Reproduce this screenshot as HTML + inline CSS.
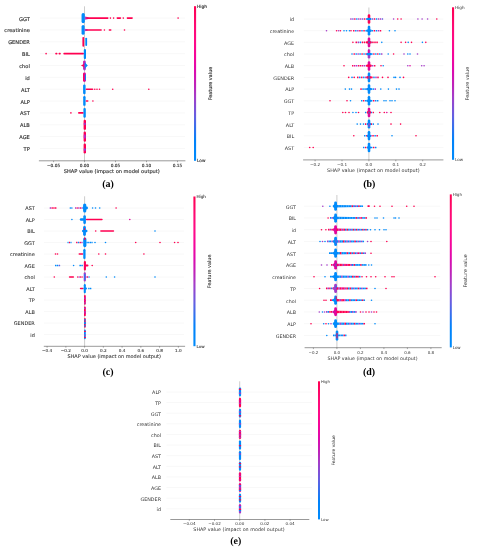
<!DOCTYPE html>
<html><head><meta charset="utf-8"><style>html,body{margin:0;padding:0;background:#fff;overflow:hidden}svg{display:block}text{text-rendering:geometricPrecision}</style></head>
<body><svg width="477" height="550" viewBox="0 0 477 550"><defs><linearGradient id="ga" x1="0" y1="0" x2="0" y2="1"><stop offset="0" stop-color="#ff0051"/><stop offset="0.123" stop-color="#ff0a73"/><stop offset="0.227" stop-color="#ff0a87"/><stop offset="0.324" stop-color="#f5059b"/><stop offset="0.42" stop-color="#dc0aaf"/><stop offset="0.511" stop-color="#be23b9"/><stop offset="0.583" stop-color="#a53cc8"/><stop offset="0.712" stop-color="#645fe1"/><stop offset="0.867" stop-color="#0082fa"/><stop offset="1" stop-color="#008bfb"/></linearGradient><linearGradient id="gb" x1="0" y1="0" x2="0" y2="1"><stop offset="0" stop-color="#ff0051"/><stop offset="0.123" stop-color="#ff0a73"/><stop offset="0.227" stop-color="#ff0a87"/><stop offset="0.324" stop-color="#f5059b"/><stop offset="0.42" stop-color="#dc0aaf"/><stop offset="0.511" stop-color="#be23b9"/><stop offset="0.583" stop-color="#a53cc8"/><stop offset="0.712" stop-color="#645fe1"/><stop offset="0.867" stop-color="#0082fa"/><stop offset="1" stop-color="#008bfb"/></linearGradient><linearGradient id="gc" x1="0" y1="0" x2="0" y2="1"><stop offset="0" stop-color="#ff0051"/><stop offset="0.123" stop-color="#ff0a73"/><stop offset="0.227" stop-color="#ff0a87"/><stop offset="0.324" stop-color="#f5059b"/><stop offset="0.42" stop-color="#dc0aaf"/><stop offset="0.511" stop-color="#be23b9"/><stop offset="0.583" stop-color="#a53cc8"/><stop offset="0.712" stop-color="#645fe1"/><stop offset="0.867" stop-color="#0082fa"/><stop offset="1" stop-color="#008bfb"/></linearGradient><linearGradient id="gd" x1="0" y1="0" x2="0" y2="1"><stop offset="0" stop-color="#ff0051"/><stop offset="0.123" stop-color="#ff0a73"/><stop offset="0.227" stop-color="#ff0a87"/><stop offset="0.324" stop-color="#f5059b"/><stop offset="0.42" stop-color="#dc0aaf"/><stop offset="0.511" stop-color="#be23b9"/><stop offset="0.583" stop-color="#a53cc8"/><stop offset="0.712" stop-color="#645fe1"/><stop offset="0.867" stop-color="#0082fa"/><stop offset="1" stop-color="#008bfb"/></linearGradient><linearGradient id="ge" x1="0" y1="0" x2="0" y2="1"><stop offset="0" stop-color="#ff0051"/><stop offset="0.123" stop-color="#ff0a73"/><stop offset="0.227" stop-color="#ff0a87"/><stop offset="0.324" stop-color="#f5059b"/><stop offset="0.42" stop-color="#dc0aaf"/><stop offset="0.511" stop-color="#be23b9"/><stop offset="0.583" stop-color="#a53cc8"/><stop offset="0.712" stop-color="#645fe1"/><stop offset="0.867" stop-color="#0082fa"/><stop offset="1" stop-color="#008bfb"/></linearGradient></defs><rect width="477" height="550" fill="#fff"/><g><line x1="40" y1="18.1" x2="185" y2="18.1" stroke="#f8f8f8" stroke-width="1"/>
<line x1="40" y1="29.95" x2="185" y2="29.95" stroke="#f8f8f8" stroke-width="1"/>
<line x1="40" y1="41.8" x2="185" y2="41.8" stroke="#f8f8f8" stroke-width="1"/>
<line x1="40" y1="53.65" x2="185" y2="53.65" stroke="#f8f8f8" stroke-width="1"/>
<line x1="40" y1="65.5" x2="185" y2="65.5" stroke="#f8f8f8" stroke-width="1"/>
<line x1="40" y1="77.35" x2="185" y2="77.35" stroke="#f8f8f8" stroke-width="1"/>
<line x1="40" y1="89.2" x2="185" y2="89.2" stroke="#f8f8f8" stroke-width="1"/>
<line x1="40" y1="101.05" x2="185" y2="101.05" stroke="#f8f8f8" stroke-width="1"/>
<line x1="40" y1="112.9" x2="185" y2="112.9" stroke="#f8f8f8" stroke-width="1"/>
<line x1="40" y1="124.75" x2="185" y2="124.75" stroke="#f8f8f8" stroke-width="1"/>
<line x1="40" y1="136.6" x2="185" y2="136.6" stroke="#f8f8f8" stroke-width="1"/>
<line x1="40" y1="148.45" x2="185" y2="148.45" stroke="#f8f8f8" stroke-width="1"/>
<line x1="84.5" y1="6.3" x2="84.5" y2="160.8" stroke="#aaaaaa" stroke-width="0.6"/>
<text transform="translate(29.8,20.56) scale(0.1)" x="0" y="0" font-size="50.9" text-anchor="end" fill="#333333" stroke="#333333" stroke-width="1.5" font-family='"DejaVu Sans", "Liberation Sans", sans-serif' font-weight="normal" >GGT</text>
<text transform="translate(29.8,32.41) scale(0.1)" x="0" y="0" font-size="50.9" text-anchor="end" fill="#333333" stroke="#333333" stroke-width="1.5" font-family='"DejaVu Sans", "Liberation Sans", sans-serif' font-weight="normal" >creatinine</text>
<text transform="translate(29.8,44.26) scale(0.1)" x="0" y="0" font-size="50.9" text-anchor="end" fill="#333333" stroke="#333333" stroke-width="1.5" font-family='"DejaVu Sans", "Liberation Sans", sans-serif' font-weight="normal" >GENDER</text>
<text transform="translate(29.8,56.11) scale(0.1)" x="0" y="0" font-size="50.9" text-anchor="end" fill="#333333" stroke="#333333" stroke-width="1.5" font-family='"DejaVu Sans", "Liberation Sans", sans-serif' font-weight="normal" >BIL</text>
<text transform="translate(29.8,67.96) scale(0.1)" x="0" y="0" font-size="50.9" text-anchor="end" fill="#333333" stroke="#333333" stroke-width="1.5" font-family='"DejaVu Sans", "Liberation Sans", sans-serif' font-weight="normal" >chol</text>
<text transform="translate(29.8,79.81) scale(0.1)" x="0" y="0" font-size="50.9" text-anchor="end" fill="#333333" stroke="#333333" stroke-width="1.5" font-family='"DejaVu Sans", "Liberation Sans", sans-serif' font-weight="normal" >id</text>
<text transform="translate(29.8,91.66) scale(0.1)" x="0" y="0" font-size="50.9" text-anchor="end" fill="#333333" stroke="#333333" stroke-width="1.5" font-family='"DejaVu Sans", "Liberation Sans", sans-serif' font-weight="normal" >ALT</text>
<text transform="translate(29.8,103.51) scale(0.1)" x="0" y="0" font-size="50.9" text-anchor="end" fill="#333333" stroke="#333333" stroke-width="1.5" font-family='"DejaVu Sans", "Liberation Sans", sans-serif' font-weight="normal" >ALP</text>
<text transform="translate(29.8,115.36) scale(0.1)" x="0" y="0" font-size="50.9" text-anchor="end" fill="#333333" stroke="#333333" stroke-width="1.5" font-family='"DejaVu Sans", "Liberation Sans", sans-serif' font-weight="normal" >AST</text>
<text transform="translate(29.8,127.21) scale(0.1)" x="0" y="0" font-size="50.9" text-anchor="end" fill="#333333" stroke="#333333" stroke-width="1.5" font-family='"DejaVu Sans", "Liberation Sans", sans-serif' font-weight="normal" >ALB</text>
<text transform="translate(29.8,139.06) scale(0.1)" x="0" y="0" font-size="50.9" text-anchor="end" fill="#333333" stroke="#333333" stroke-width="1.5" font-family='"DejaVu Sans", "Liberation Sans", sans-serif' font-weight="normal" >AGE</text>
<text transform="translate(29.8,150.91) scale(0.1)" x="0" y="0" font-size="50.9" text-anchor="end" fill="#333333" stroke="#333333" stroke-width="1.5" font-family='"DejaVu Sans", "Liberation Sans", sans-serif' font-weight="normal" >TP</text>
<rect x="81.55" y="13.1" width="3.3" height="10.1" rx="1.65" fill="#008bfb"/>
<polygon points="84.8,16.5 88.5,17.2 88.5,19 84.8,19.7" fill="#a53cc8"/>
<rect x="86" y="17.3" width="22.6" height="1.6" rx="0.8" fill="#ff0051"/>
<circle cx="110.4" cy="18.1" r="0.8" fill="#ff0051"/>
<circle cx="113.6" cy="18.1" r="0.8" fill="#ff0051"/>
<circle cx="123.3" cy="18.1" r="0.8" fill="#ff0051"/>
<circle cx="178.1" cy="18.1" r="0.8" fill="#ff0051"/>
<rect x="116.5" y="17.3" width="4.7" height="1.6" rx="0.8" fill="#ff0051"/>
<rect x="126.6" y="17.3" width="6.3" height="1.6" rx="0.8" fill="#ff0051"/>
<rect x="81.55" y="25.05" width="3.1" height="9.8" rx="1.55" fill="#008bfb"/>
<polygon points="84.6,28.65 87.5,29.15 87.5,30.75 84.6,31.25" fill="#a53cc8"/>
<rect x="86" y="29.15" width="15.9" height="1.6" rx="0.8" fill="#ff0051"/>
<circle cx="104.4" cy="29.95" r="0.8" fill="#ff0051"/>
<circle cx="124.5" cy="29.95" r="0.8" fill="#ff0051"/>
<rect x="108.6" y="29.15" width="2.9" height="1.6" rx="0.8" fill="#ff0051"/>
<rect x="82.4" y="36.9" width="1.8" height="9.8" rx="0.9" fill="#ff0051"/>
<rect x="85.3" y="37.7" width="1.8" height="8.3" rx="0.9" fill="#008bfb"/>
<circle cx="46.1" cy="53.65" r="0.8" fill="#ff0051"/>
<rect x="55.2" y="52.85" width="2.3" height="1.6" rx="0.8" fill="#ff0051"/>
<rect x="58.5" y="52.85" width="2.3" height="1.6" rx="0.8" fill="#ff0051"/>
<rect x="63.3" y="52.85" width="20.7" height="1.6" rx="0.8" fill="#ff0051"/>
<rect x="83.8" y="48.95" width="2.2" height="10.2" rx="1.1" fill="#008bfb"/>
<rect x="83.2" y="60.6" width="2.6" height="9.8" rx="1.3" fill="#a53cc8"/>
<rect x="83.4" y="61" width="1.2" height="8" rx="0.6" fill="#e0089e"/>
<polygon points="80.9,65.5 83.8,64.1 83.8,66.9" fill="#ff0051"/>
<polygon points="85.3,62.9 87.8,65.5 85.3,68.1" fill="#008bfb"/>
<rect x="84.7" y="62.5" width="1" height="6" rx="0.5" fill="#008bfb"/>
<rect x="83.05" y="72.55" width="2.9" height="9.5" rx="1.45" fill="#e0089e"/>
<rect x="84.9" y="74.35" width="1" height="6" rx="0.5" fill="#008bfb"/>
<rect x="83.2" y="73.35" width="1" height="8" rx="0.5" fill="#ff0051"/>
<rect x="83.1" y="84.4" width="2.5" height="9.8" rx="1.25" fill="#008bfb"/>
<rect x="85.6" y="88.4" width="7.8" height="1.6" rx="0.8" fill="#ff0051"/>
<circle cx="94.8" cy="89.2" r="0.8" fill="#ff0051"/>
<circle cx="97" cy="89.2" r="0.8" fill="#ff0051"/>
<circle cx="99.5" cy="89.2" r="0.8" fill="#ff0051"/>
<circle cx="112.7" cy="89.2" r="0.8" fill="#ff0051"/>
<circle cx="148.8" cy="89.2" r="0.8" fill="#ff0051"/>
<rect x="83.2" y="96.05" width="2.4" height="9.8" rx="1.2" fill="#008bfb"/>
<rect x="85.6" y="100.25" width="2.9" height="1.6" rx="0.8" fill="#ff0051"/>
<circle cx="92.9" cy="101.05" r="0.8" fill="#ff0051"/>
<rect x="83.4" y="107.9" width="2.4" height="9.9" rx="1.2" fill="#008bfb"/>
<rect x="78" y="112.1" width="5.6" height="1.6" rx="0.8" fill="#ff0051"/>
<circle cx="70.9" cy="112.9" r="0.8" fill="#ff0051"/>
<rect x="83.6" y="119.75" width="2.4" height="10.1" rx="1.2" fill="#ff0051"/>
<rect x="83.8" y="122.55" width="2" height="2.8" rx="1" fill="#e0089e"/>
<rect x="84" y="123.15" width="1.6" height="1.6" rx="0.8" fill="#6a60e0"/>
<rect x="83.6" y="131.6" width="2.4" height="10.1" rx="1.2" fill="#ff0051"/>
<rect x="83.8" y="134.1" width="2" height="5" rx="1" fill="#e0089e"/>
<rect x="84" y="135.1" width="1.6" height="3" rx="0.8" fill="#a53cc8"/>
<rect x="83.6" y="143.45" width="2.4" height="10.1" rx="1.2" fill="#ff0051"/>
<rect x="83.8" y="147.95" width="2" height="3.5" rx="1" fill="#e0089e"/>
<rect x="84" y="148.45" width="1.6" height="2.2" rx="0.8" fill="#6a60e0"/>
<line x1="38.9" y1="160.8" x2="185.4" y2="160.8" stroke="#333333" stroke-width="0.5"/>
<line x1="53.6" y1="160.8" x2="53.6" y2="162.2" stroke="#333333" stroke-width="0.4"/>
<text transform="translate(53.6,166.77) scale(0.1)" x="0" y="0" font-size="43.07" text-anchor="middle" fill="#333333" stroke="#333333" stroke-width="1.5" font-family='"DejaVu Sans", "Liberation Sans", sans-serif' font-weight="normal" >−0.05</text>
<line x1="84.5" y1="160.8" x2="84.5" y2="162.2" stroke="#333333" stroke-width="0.4"/>
<text transform="translate(84.5,166.77) scale(0.1)" x="0" y="0" font-size="43.07" text-anchor="middle" fill="#333333" stroke="#333333" stroke-width="1.5" font-family='"DejaVu Sans", "Liberation Sans", sans-serif' font-weight="normal" >0.00</text>
<line x1="115.5" y1="160.8" x2="115.5" y2="162.2" stroke="#333333" stroke-width="0.4"/>
<text transform="translate(115.5,166.77) scale(0.1)" x="0" y="0" font-size="43.07" text-anchor="middle" fill="#333333" stroke="#333333" stroke-width="1.5" font-family='"DejaVu Sans", "Liberation Sans", sans-serif' font-weight="normal" >0.05</text>
<line x1="146.5" y1="160.8" x2="146.5" y2="162.2" stroke="#333333" stroke-width="0.4"/>
<text transform="translate(146.5,166.77) scale(0.1)" x="0" y="0" font-size="43.07" text-anchor="middle" fill="#333333" stroke="#333333" stroke-width="1.5" font-family='"DejaVu Sans", "Liberation Sans", sans-serif' font-weight="normal" >0.10</text>
<line x1="177.5" y1="160.8" x2="177.5" y2="162.2" stroke="#333333" stroke-width="0.4"/>
<text transform="translate(177.5,166.77) scale(0.1)" x="0" y="0" font-size="43.07" text-anchor="middle" fill="#333333" stroke="#333333" stroke-width="1.5" font-family='"DejaVu Sans", "Liberation Sans", sans-serif' font-weight="normal" >0.15</text>
<text transform="translate(111.8,172.66) scale(0.1)" x="0" y="0" font-size="50.9" text-anchor="middle" fill="#333333" stroke="#333333" stroke-width="1.5" font-family='"DejaVu Sans", "Liberation Sans", sans-serif' font-weight="normal" >SHAP value (impact on model output)</text>
<rect x="194" y="6.2" width="2.1" height="154.6" fill="url(#ga)"/>
<text transform="translate(197,7.77) scale(0.1)" x="0" y="0" font-size="43.07" text-anchor="start" fill="#333333" stroke="#333333" stroke-width="1.5" font-family='"DejaVu Sans", "Liberation Sans", sans-serif' font-weight="normal" >High</text>
<text transform="translate(197,162.37) scale(0.1)" x="0" y="0" font-size="43.07" text-anchor="start" fill="#333333" stroke="#333333" stroke-width="1.5" font-family='"DejaVu Sans", "Liberation Sans", sans-serif' font-weight="normal" >Low</text>
<text x="0" y="0" font-size="49.1" text-anchor="middle" fill="#333333" stroke="#333333" stroke-width="1.5" font-family='"DejaVu Sans", "Liberation Sans", sans-serif' transform="translate(211.69,83.5) rotate(-90) scale(0.1)">Feature value</text>
<text transform="translate(108,187.2) scale(0.1)" x="0" y="0" font-size="100" text-anchor="middle" fill="#000000" stroke="#000000" stroke-width="0" font-family='"Liberation Serif", serif' font-weight="bold" >(a)</text>
<line x1="303.8" y1="19" x2="443.4" y2="19" stroke="#f8f8f8" stroke-width="1"/>
<line x1="303.8" y1="30.68" x2="443.4" y2="30.68" stroke="#f8f8f8" stroke-width="1"/>
<line x1="303.8" y1="42.36" x2="443.4" y2="42.36" stroke="#f8f8f8" stroke-width="1"/>
<line x1="303.8" y1="54.04" x2="443.4" y2="54.04" stroke="#f8f8f8" stroke-width="1"/>
<line x1="303.8" y1="65.72" x2="443.4" y2="65.72" stroke="#f8f8f8" stroke-width="1"/>
<line x1="303.8" y1="77.4" x2="443.4" y2="77.4" stroke="#f8f8f8" stroke-width="1"/>
<line x1="303.8" y1="89.08" x2="443.4" y2="89.08" stroke="#f8f8f8" stroke-width="1"/>
<line x1="303.8" y1="100.76" x2="443.4" y2="100.76" stroke="#f8f8f8" stroke-width="1"/>
<line x1="303.8" y1="112.44" x2="443.4" y2="112.44" stroke="#f8f8f8" stroke-width="1"/>
<line x1="303.8" y1="124.12" x2="443.4" y2="124.12" stroke="#f8f8f8" stroke-width="1"/>
<line x1="303.8" y1="135.8" x2="443.4" y2="135.8" stroke="#f8f8f8" stroke-width="1"/>
<line x1="303.8" y1="147.48" x2="443.4" y2="147.48" stroke="#f8f8f8" stroke-width="1"/>
<line x1="368.9" y1="7.5" x2="368.9" y2="159.9" stroke="#aaaaaa" stroke-width="0.6"/>
<text transform="translate(294.2,21.39) scale(0.1)" x="0" y="0" font-size="49" text-anchor="end" fill="#333333" stroke="#333333" stroke-width="0" font-family='"DejaVu Sans", "Liberation Sans", sans-serif' font-weight="normal" >id</text>
<text transform="translate(294.2,33.07) scale(0.1)" x="0" y="0" font-size="49" text-anchor="end" fill="#333333" stroke="#333333" stroke-width="0" font-family='"DejaVu Sans", "Liberation Sans", sans-serif' font-weight="normal" >creatinine</text>
<text transform="translate(294.2,44.75) scale(0.1)" x="0" y="0" font-size="49" text-anchor="end" fill="#333333" stroke="#333333" stroke-width="0" font-family='"DejaVu Sans", "Liberation Sans", sans-serif' font-weight="normal" >AGE</text>
<text transform="translate(294.2,56.43) scale(0.1)" x="0" y="0" font-size="49" text-anchor="end" fill="#333333" stroke="#333333" stroke-width="0" font-family='"DejaVu Sans", "Liberation Sans", sans-serif' font-weight="normal" >chol</text>
<text transform="translate(294.2,68.11) scale(0.1)" x="0" y="0" font-size="49" text-anchor="end" fill="#333333" stroke="#333333" stroke-width="0" font-family='"DejaVu Sans", "Liberation Sans", sans-serif' font-weight="normal" >ALB</text>
<text transform="translate(294.2,79.79) scale(0.1)" x="0" y="0" font-size="49" text-anchor="end" fill="#333333" stroke="#333333" stroke-width="0" font-family='"DejaVu Sans", "Liberation Sans", sans-serif' font-weight="normal" >GENDER</text>
<text transform="translate(294.2,91.47) scale(0.1)" x="0" y="0" font-size="49" text-anchor="end" fill="#333333" stroke="#333333" stroke-width="0" font-family='"DejaVu Sans", "Liberation Sans", sans-serif' font-weight="normal" >ALP</text>
<text transform="translate(294.2,103.15) scale(0.1)" x="0" y="0" font-size="49" text-anchor="end" fill="#333333" stroke="#333333" stroke-width="0" font-family='"DejaVu Sans", "Liberation Sans", sans-serif' font-weight="normal" >GGT</text>
<text transform="translate(294.2,114.83) scale(0.1)" x="0" y="0" font-size="49" text-anchor="end" fill="#333333" stroke="#333333" stroke-width="0" font-family='"DejaVu Sans", "Liberation Sans", sans-serif' font-weight="normal" >TP</text>
<text transform="translate(294.2,126.51) scale(0.1)" x="0" y="0" font-size="49" text-anchor="end" fill="#333333" stroke="#333333" stroke-width="0" font-family='"DejaVu Sans", "Liberation Sans", sans-serif' font-weight="normal" >ALT</text>
<text transform="translate(294.2,138.19) scale(0.1)" x="0" y="0" font-size="49" text-anchor="end" fill="#333333" stroke="#333333" stroke-width="0" font-family='"DejaVu Sans", "Liberation Sans", sans-serif' font-weight="normal" >BIL</text>
<text transform="translate(294.2,149.87) scale(0.1)" x="0" y="0" font-size="49" text-anchor="end" fill="#333333" stroke="#333333" stroke-width="0" font-family='"DejaVu Sans", "Liberation Sans", sans-serif' font-weight="normal" >AST</text>
<rect x="350.2" y="18.2" width="1.42" height="1.6" rx="0.3" fill="#a53cc8"/>
<rect x="352.17" y="18.2" width="1.42" height="1.6" rx="0.3" fill="#6a60e0"/>
<rect x="354.14" y="18.2" width="1.42" height="1.6" rx="0.3" fill="#ff0051"/>
<rect x="356.11" y="18.2" width="1.42" height="1.6" rx="0.3" fill="#008bfb"/>
<rect x="358.08" y="18.2" width="1.42" height="1.6" rx="0.3" fill="#a53cc8"/>
<rect x="360.05" y="18.2" width="1.42" height="1.6" rx="0.3" fill="#a53cc8"/>
<rect x="362.02" y="18.2" width="1.42" height="1.6" rx="0.3" fill="#6a60e0"/>
<rect x="363.99" y="18.2" width="1.42" height="1.6" rx="0.3" fill="#ff0051"/>
<rect x="365.96" y="18.2" width="1.42" height="1.6" rx="0.3" fill="#008bfb"/>
<rect x="367.94" y="18.2" width="1.42" height="1.6" rx="0.3" fill="#a53cc8"/>
<rect x="369.91" y="18.2" width="1.42" height="1.6" rx="0.3" fill="#a53cc8"/>
<rect x="371.88" y="18.2" width="1.42" height="1.6" rx="0.3" fill="#6a60e0"/>
<rect x="373.85" y="18.2" width="1.42" height="1.6" rx="0.3" fill="#ff0051"/>
<rect x="375.82" y="18.2" width="1.42" height="1.6" rx="0.3" fill="#008bfb"/>
<rect x="377.79" y="18.2" width="1.42" height="1.6" rx="0.3" fill="#a53cc8"/>
<rect x="379.76" y="18.2" width="1.42" height="1.6" rx="0.3" fill="#a53cc8"/>
<rect x="381.73" y="18.2" width="1.42" height="1.6" rx="0.3" fill="#6a60e0"/>
<rect x="367.7" y="14.2" width="2.6" height="9.6" rx="1.3" fill="#ff0051"/>
<rect x="366.62" y="17.9" width="4.76" height="2.2" rx="1" fill="#008bfb"/>
<rect x="368.3" y="17.5" width="1.4" height="3" rx="0.7" fill="#008bfb"/>
<circle cx="393.6" cy="19" r="0.8" fill="#a53cc8"/>
<circle cx="397.7" cy="19" r="0.8" fill="#ff0051"/>
<circle cx="401.1" cy="19" r="0.8" fill="#ff0051"/>
<circle cx="417.9" cy="19" r="0.8" fill="#a53cc8"/>
<circle cx="422.1" cy="19" r="0.8" fill="#a53cc8"/>
<circle cx="427.6" cy="19" r="0.8" fill="#a53cc8"/>
<circle cx="436.8" cy="19" r="0.8" fill="#ff0051"/>
<circle cx="326.5" cy="30.68" r="0.8" fill="#a53cc8"/>
<circle cx="336.6" cy="30.68" r="0.8" fill="#ff0051"/>
<circle cx="338.6" cy="30.68" r="0.8" fill="#a53cc8"/>
<circle cx="340.4" cy="30.68" r="0.8" fill="#ff0051"/>
<circle cx="344" cy="30.68" r="0.8" fill="#008bfb"/>
<circle cx="346.5" cy="30.68" r="0.8" fill="#008bfb"/>
<circle cx="349.5" cy="30.68" r="0.8" fill="#008bfb"/>
<circle cx="351" cy="30.68" r="0.8" fill="#ff0051"/>
<circle cx="389.4" cy="30.68" r="0.8" fill="#008bfb"/>
<circle cx="395" cy="30.68" r="0.8" fill="#008bfb"/>
<rect x="353" y="29.88" width="1.51" height="1.6" rx="0.3" fill="#ff0051"/>
<rect x="355.06" y="29.88" width="1.51" height="1.6" rx="0.3" fill="#008bfb"/>
<rect x="357.11" y="29.88" width="1.51" height="1.6" rx="0.3" fill="#a53cc8"/>
<rect x="359.17" y="29.88" width="1.51" height="1.6" rx="0.3" fill="#ff0051"/>
<rect x="361.23" y="29.88" width="1.51" height="1.6" rx="0.3" fill="#008bfb"/>
<rect x="363.29" y="29.88" width="1.51" height="1.6" rx="0.3" fill="#ff0051"/>
<rect x="365.34" y="29.88" width="1.51" height="1.6" rx="0.3" fill="#008bfb"/>
<rect x="367.4" y="29.88" width="1.51" height="1.6" rx="0.3" fill="#a53cc8"/>
<rect x="369.46" y="29.88" width="1.51" height="1.6" rx="0.3" fill="#ff0051"/>
<rect x="371.51" y="29.88" width="1.51" height="1.6" rx="0.3" fill="#008bfb"/>
<rect x="373.57" y="29.88" width="1.51" height="1.6" rx="0.3" fill="#ff0051"/>
<rect x="375.63" y="29.88" width="1.51" height="1.6" rx="0.3" fill="#008bfb"/>
<rect x="377.69" y="29.88" width="1.51" height="1.6" rx="0.3" fill="#a53cc8"/>
<rect x="379.74" y="29.88" width="1.51" height="1.6" rx="0.3" fill="#ff0051"/>
<rect x="367.7" y="25.78" width="2.6" height="9.7" rx="1.3" fill="#008bfb"/>
<rect x="366.28" y="29.58" width="5.44" height="2.2" rx="1" fill="#008bfb"/>
<circle cx="352.9" cy="42.36" r="0.8" fill="#ff0051"/>
<circle cx="381.8" cy="42.36" r="0.8" fill="#008bfb"/>
<circle cx="401.1" cy="42.36" r="0.8" fill="#ff0051"/>
<circle cx="405.6" cy="42.36" r="0.8" fill="#ff0051"/>
<circle cx="408.2" cy="42.36" r="0.8" fill="#008bfb"/>
<circle cx="411.5" cy="42.36" r="0.8" fill="#ff0051"/>
<circle cx="422.4" cy="42.36" r="0.8" fill="#008bfb"/>
<circle cx="425.8" cy="42.36" r="0.8" fill="#ff0051"/>
<rect x="355.5" y="41.56" width="1.53" height="1.6" rx="0.3" fill="#ff0051"/>
<rect x="357.58" y="41.56" width="1.53" height="1.6" rx="0.3" fill="#a53cc8"/>
<rect x="359.66" y="41.56" width="1.53" height="1.6" rx="0.3" fill="#008bfb"/>
<rect x="361.75" y="41.56" width="1.53" height="1.6" rx="0.3" fill="#ff0051"/>
<rect x="363.83" y="41.56" width="1.53" height="1.6" rx="0.3" fill="#ff0051"/>
<rect x="365.91" y="41.56" width="1.53" height="1.6" rx="0.3" fill="#ff0051"/>
<rect x="367.99" y="41.56" width="1.53" height="1.6" rx="0.3" fill="#a53cc8"/>
<rect x="370.07" y="41.56" width="1.53" height="1.6" rx="0.3" fill="#008bfb"/>
<rect x="372.15" y="41.56" width="1.53" height="1.6" rx="0.3" fill="#ff0051"/>
<rect x="374.24" y="41.56" width="1.53" height="1.6" rx="0.3" fill="#ff0051"/>
<rect x="376.32" y="41.56" width="1.53" height="1.6" rx="0.3" fill="#ff0051"/>
<rect x="367.7" y="37.56" width="2.6" height="9.7" rx="1.3" fill="#e0089e"/>
<rect x="366.28" y="41.26" width="5.44" height="2.2" rx="1" fill="#ff0051"/>
<rect x="368.4" y="41.36" width="1.2" height="2" rx="0.6" fill="#008bfb"/>
<circle cx="352" cy="54.04" r="0.8" fill="#008bfb"/>
<circle cx="388.2" cy="54.04" r="0.8" fill="#008bfb"/>
<circle cx="393.6" cy="54.04" r="0.8" fill="#ff0051"/>
<circle cx="404" cy="54.04" r="0.8" fill="#a53cc8"/>
<circle cx="407.8" cy="54.04" r="0.8" fill="#008bfb"/>
<circle cx="410" cy="54.04" r="0.8" fill="#008bfb"/>
<circle cx="417.5" cy="54.04" r="0.8" fill="#a53cc8"/>
<rect x="353.5" y="53.24" width="1.42" height="1.6" rx="0.3" fill="#ff0051"/>
<rect x="355.47" y="53.24" width="1.42" height="1.6" rx="0.3" fill="#008bfb"/>
<rect x="357.43" y="53.24" width="1.42" height="1.6" rx="0.3" fill="#a53cc8"/>
<rect x="359.4" y="53.24" width="1.42" height="1.6" rx="0.3" fill="#008bfb"/>
<rect x="361.37" y="53.24" width="1.42" height="1.6" rx="0.3" fill="#ff0051"/>
<rect x="363.33" y="53.24" width="1.42" height="1.6" rx="0.3" fill="#008bfb"/>
<rect x="365.3" y="53.24" width="1.42" height="1.6" rx="0.3" fill="#ff0051"/>
<rect x="367.27" y="53.24" width="1.42" height="1.6" rx="0.3" fill="#008bfb"/>
<rect x="369.23" y="53.24" width="1.42" height="1.6" rx="0.3" fill="#a53cc8"/>
<rect x="371.2" y="53.24" width="1.42" height="1.6" rx="0.3" fill="#008bfb"/>
<rect x="373.17" y="53.24" width="1.42" height="1.6" rx="0.3" fill="#ff0051"/>
<rect x="375.13" y="53.24" width="1.42" height="1.6" rx="0.3" fill="#008bfb"/>
<rect x="377.1" y="53.24" width="1.42" height="1.6" rx="0.3" fill="#ff0051"/>
<rect x="379.07" y="53.24" width="1.42" height="1.6" rx="0.3" fill="#008bfb"/>
<rect x="381.03" y="53.24" width="1.42" height="1.6" rx="0.3" fill="#a53cc8"/>
<rect x="367.7" y="49.24" width="2.6" height="9.2" rx="1.3" fill="#a53cc8"/>
<rect x="366.28" y="52.94" width="5.44" height="2.2" rx="1" fill="#008bfb"/>
<rect x="368" y="49.54" width="1.2" height="3.5" rx="0.6" fill="#e0089e"/>
<circle cx="344" cy="65.72" r="0.8" fill="#ff0051"/>
<circle cx="381" cy="65.72" r="0.8" fill="#ff0051"/>
<circle cx="383.2" cy="65.72" r="0.8" fill="#008bfb"/>
<circle cx="407.8" cy="65.72" r="0.8" fill="#a53cc8"/>
<circle cx="410" cy="65.72" r="0.8" fill="#e0089e"/>
<circle cx="421.7" cy="65.72" r="0.8" fill="#a53cc8"/>
<circle cx="424.1" cy="65.72" r="0.8" fill="#a53cc8"/>
<rect x="352" y="64.92" width="1.45" height="1.6" rx="0.3" fill="#ff0051"/>
<rect x="354" y="64.92" width="1.45" height="1.6" rx="0.3" fill="#e0089e"/>
<rect x="356" y="64.92" width="1.45" height="1.6" rx="0.3" fill="#a53cc8"/>
<rect x="358" y="64.92" width="1.45" height="1.6" rx="0.3" fill="#ff0051"/>
<rect x="360" y="64.92" width="1.45" height="1.6" rx="0.3" fill="#ff0051"/>
<rect x="362" y="64.92" width="1.45" height="1.6" rx="0.3" fill="#e0089e"/>
<rect x="364" y="64.92" width="1.45" height="1.6" rx="0.3" fill="#a53cc8"/>
<rect x="366" y="64.92" width="1.45" height="1.6" rx="0.3" fill="#ff0051"/>
<rect x="368" y="64.92" width="1.45" height="1.6" rx="0.3" fill="#ff0051"/>
<rect x="370" y="64.92" width="1.45" height="1.6" rx="0.3" fill="#e0089e"/>
<rect x="372" y="64.92" width="1.45" height="1.6" rx="0.3" fill="#a53cc8"/>
<rect x="374" y="64.92" width="1.45" height="1.6" rx="0.3" fill="#ff0051"/>
<rect x="367.7" y="61.22" width="2.6" height="9.5" rx="1.3" fill="#e0089e"/>
<rect x="366.28" y="64.62" width="5.44" height="2.2" rx="1" fill="#ff0051"/>
<circle cx="348.7" cy="77.4" r="0.8" fill="#ff0051"/>
<circle cx="352" cy="77.4" r="0.8" fill="#008bfb"/>
<circle cx="354.2" cy="77.4" r="0.8" fill="#ff0051"/>
<circle cx="382.5" cy="77.4" r="0.8" fill="#ff0051"/>
<circle cx="388" cy="77.4" r="0.8" fill="#ff0051"/>
<circle cx="394" cy="77.4" r="0.8" fill="#008bfb"/>
<circle cx="395.5" cy="77.4" r="0.8" fill="#008bfb"/>
<circle cx="400" cy="77.4" r="0.8" fill="#008bfb"/>
<circle cx="403.5" cy="77.4" r="0.8" fill="#ff0051"/>
<rect x="357" y="76.6" width="1.48" height="1.6" rx="0.3" fill="#ff0051"/>
<rect x="359.03" y="76.6" width="1.48" height="1.6" rx="0.3" fill="#008bfb"/>
<rect x="361.05" y="76.6" width="1.48" height="1.6" rx="0.3" fill="#ff0051"/>
<rect x="363.08" y="76.6" width="1.48" height="1.6" rx="0.3" fill="#008bfb"/>
<rect x="365.11" y="76.6" width="1.48" height="1.6" rx="0.3" fill="#a53cc8"/>
<rect x="367.14" y="76.6" width="1.48" height="1.6" rx="0.3" fill="#ff0051"/>
<rect x="369.16" y="76.6" width="1.48" height="1.6" rx="0.3" fill="#008bfb"/>
<rect x="371.19" y="76.6" width="1.48" height="1.6" rx="0.3" fill="#ff0051"/>
<rect x="373.22" y="76.6" width="1.48" height="1.6" rx="0.3" fill="#008bfb"/>
<rect x="375.25" y="76.6" width="1.48" height="1.6" rx="0.3" fill="#a53cc8"/>
<rect x="377.27" y="76.6" width="1.48" height="1.6" rx="0.3" fill="#ff0051"/>
<rect x="367.7" y="72.6" width="2.6" height="9.6" rx="1.3" fill="#008bfb"/>
<rect x="366.28" y="76.3" width="5.44" height="2.2" rx="1" fill="#ff0051"/>
<rect x="368.4" y="76.2" width="1.2" height="2.4" rx="0.6" fill="#008bfb"/>
<circle cx="345.3" cy="89.08" r="0.8" fill="#008bfb"/>
<circle cx="349.5" cy="89.08" r="0.8" fill="#008bfb"/>
<circle cx="351.5" cy="89.08" r="0.8" fill="#008bfb"/>
<circle cx="380.8" cy="89.08" r="0.8" fill="#008bfb"/>
<circle cx="388.4" cy="89.08" r="0.8" fill="#008bfb"/>
<circle cx="396.5" cy="89.08" r="0.8" fill="#008bfb"/>
<circle cx="399" cy="89.08" r="0.8" fill="#008bfb"/>
<rect x="360.3" y="88.28" width="1.47" height="1.6" rx="0.3" fill="#ff0051"/>
<rect x="362.32" y="88.28" width="1.47" height="1.6" rx="0.3" fill="#008bfb"/>
<rect x="364.35" y="88.28" width="1.47" height="1.6" rx="0.3" fill="#008bfb"/>
<rect x="366.38" y="88.28" width="1.47" height="1.6" rx="0.3" fill="#a53cc8"/>
<rect x="368.4" y="88.28" width="1.47" height="1.6" rx="0.3" fill="#ff0051"/>
<rect x="370.43" y="88.28" width="1.47" height="1.6" rx="0.3" fill="#008bfb"/>
<rect x="372.45" y="88.28" width="1.47" height="1.6" rx="0.3" fill="#008bfb"/>
<rect x="374.48" y="88.28" width="1.47" height="1.6" rx="0.3" fill="#a53cc8"/>
<rect x="367.7" y="84.28" width="2.6" height="9.6" rx="1.3" fill="#008bfb"/>
<rect x="366.28" y="87.98" width="5.44" height="2.2" rx="1" fill="#008bfb"/>
<circle cx="330" cy="100.76" r="0.8" fill="#ff0051"/>
<circle cx="347" cy="100.76" r="0.8" fill="#ff0051"/>
<circle cx="350.5" cy="100.76" r="0.8" fill="#008bfb"/>
<circle cx="384" cy="100.76" r="0.8" fill="#008bfb"/>
<circle cx="386" cy="100.76" r="0.8" fill="#008bfb"/>
<circle cx="390" cy="100.76" r="0.8" fill="#008bfb"/>
<circle cx="392" cy="100.76" r="0.8" fill="#008bfb"/>
<circle cx="395" cy="100.76" r="0.8" fill="#008bfb"/>
<rect x="361" y="99.96" width="1.45" height="1.6" rx="0.3" fill="#008bfb"/>
<rect x="363" y="99.96" width="1.45" height="1.6" rx="0.3" fill="#ff0051"/>
<rect x="365" y="99.96" width="1.45" height="1.6" rx="0.3" fill="#008bfb"/>
<rect x="367" y="99.96" width="1.45" height="1.6" rx="0.3" fill="#008bfb"/>
<rect x="369" y="99.96" width="1.45" height="1.6" rx="0.3" fill="#a53cc8"/>
<rect x="371" y="99.96" width="1.45" height="1.6" rx="0.3" fill="#008bfb"/>
<rect x="373" y="99.96" width="1.45" height="1.6" rx="0.3" fill="#ff0051"/>
<rect x="375" y="99.96" width="1.45" height="1.6" rx="0.3" fill="#008bfb"/>
<rect x="377" y="99.96" width="1.45" height="1.6" rx="0.3" fill="#008bfb"/>
<rect x="367.7" y="95.96" width="2.6" height="9.6" rx="1.3" fill="#008bfb"/>
<rect x="366.28" y="99.66" width="5.44" height="2.2" rx="1" fill="#008bfb"/>
<circle cx="342.8" cy="112.44" r="0.8" fill="#ff0051"/>
<circle cx="345.5" cy="112.44" r="0.8" fill="#ff0051"/>
<circle cx="349" cy="112.44" r="0.8" fill="#ff0051"/>
<circle cx="352.9" cy="112.44" r="0.8" fill="#008bfb"/>
<circle cx="356" cy="112.44" r="0.8" fill="#008bfb"/>
<circle cx="358.5" cy="112.44" r="0.8" fill="#ff0051"/>
<circle cx="379.8" cy="112.44" r="0.8" fill="#ff0051"/>
<circle cx="384.3" cy="112.44" r="0.8" fill="#ff0051"/>
<circle cx="386.8" cy="112.44" r="0.8" fill="#e0089e"/>
<circle cx="391" cy="112.44" r="0.8" fill="#ff0051"/>
<rect x="365" y="111.64" width="1.35" height="1.6" rx="0.3" fill="#008bfb"/>
<rect x="366.9" y="111.64" width="1.35" height="1.6" rx="0.3" fill="#ff0051"/>
<rect x="368.8" y="111.64" width="1.35" height="1.6" rx="0.3" fill="#008bfb"/>
<rect x="370.7" y="111.64" width="1.35" height="1.6" rx="0.3" fill="#008bfb"/>
<rect x="372.6" y="111.64" width="1.35" height="1.6" rx="0.3" fill="#ff0051"/>
<rect x="367.7" y="107.64" width="2.6" height="9.6" rx="1.3" fill="#e0089e"/>
<rect x="366.79" y="111.34" width="4.42" height="2.2" rx="1" fill="#ff0051"/>
<rect x="368.5" y="111.44" width="1" height="2" rx="0.5" fill="#008bfb"/>
<circle cx="357.2" cy="124.12" r="0.8" fill="#008bfb"/>
<circle cx="360.5" cy="124.12" r="0.8" fill="#008bfb"/>
<circle cx="363.5" cy="124.12" r="0.8" fill="#008bfb"/>
<circle cx="378" cy="124.12" r="0.8" fill="#008bfb"/>
<circle cx="391" cy="124.12" r="0.8" fill="#ff0051"/>
<circle cx="400.6" cy="124.12" r="0.8" fill="#ff0051"/>
<rect x="365" y="123.32" width="1.35" height="1.6" rx="0.3" fill="#ff0051"/>
<rect x="366.9" y="123.32" width="1.35" height="1.6" rx="0.3" fill="#008bfb"/>
<rect x="368.8" y="123.32" width="1.35" height="1.6" rx="0.3" fill="#a53cc8"/>
<rect x="370.7" y="123.32" width="1.35" height="1.6" rx="0.3" fill="#ff0051"/>
<rect x="372.6" y="123.32" width="1.35" height="1.6" rx="0.3" fill="#008bfb"/>
<rect x="367.7" y="119.62" width="2.6" height="9" rx="1.3" fill="#008bfb"/>
<rect x="366.79" y="123.02" width="4.42" height="2.2" rx="1" fill="#008bfb"/>
<rect x="368.4" y="123.12" width="1.2" height="4" rx="0.6" fill="#a53cc8"/>
<circle cx="353.8" cy="135.8" r="0.8" fill="#ff0051"/>
<circle cx="392" cy="135.8" r="0.8" fill="#008bfb"/>
<circle cx="416" cy="135.8" r="0.8" fill="#ff0051"/>
<rect x="364" y="135" width="1.52" height="1.6" rx="0.3" fill="#008bfb"/>
<rect x="366.07" y="135" width="1.52" height="1.6" rx="0.3" fill="#ff0051"/>
<rect x="368.14" y="135" width="1.52" height="1.6" rx="0.3" fill="#008bfb"/>
<rect x="370.21" y="135" width="1.52" height="1.6" rx="0.3" fill="#a53cc8"/>
<rect x="372.29" y="135" width="1.52" height="1.6" rx="0.3" fill="#ff0051"/>
<rect x="374.36" y="135" width="1.52" height="1.6" rx="0.3" fill="#008bfb"/>
<rect x="376.43" y="135" width="1.52" height="1.6" rx="0.3" fill="#ff0051"/>
<rect x="367.7" y="131" width="2.6" height="9.4" rx="1.3" fill="#008bfb"/>
<rect x="366.79" y="134.7" width="4.42" height="2.2" rx="1" fill="#008bfb"/>
<circle cx="309.7" cy="147.48" r="0.8" fill="#ff0051"/>
<circle cx="313.2" cy="147.48" r="0.8" fill="#ff0051"/>
<rect x="363" y="146.68" width="1.45" height="1.6" rx="0.3" fill="#008bfb"/>
<rect x="365" y="146.68" width="1.45" height="1.6" rx="0.3" fill="#ff0051"/>
<rect x="367" y="146.68" width="1.45" height="1.6" rx="0.3" fill="#008bfb"/>
<rect x="369" y="146.68" width="1.45" height="1.6" rx="0.3" fill="#ff0051"/>
<rect x="371" y="146.68" width="1.45" height="1.6" rx="0.3" fill="#008bfb"/>
<rect x="373" y="146.68" width="1.45" height="1.6" rx="0.3" fill="#ff0051"/>
<rect x="375" y="146.68" width="1.45" height="1.6" rx="0.3" fill="#008bfb"/>
<rect x="367.7" y="142.68" width="2.6" height="9.6" rx="1.3" fill="#008bfb"/>
<rect x="366.79" y="146.38" width="4.42" height="2.2" rx="1" fill="#008bfb"/>
<line x1="303.1" y1="159.9" x2="443.4" y2="159.9" stroke="#333333" stroke-width="0.5"/>
<line x1="315.1" y1="159.9" x2="315.1" y2="161.3" stroke="#333333" stroke-width="0.4"/>
<text transform="translate(315.1,166.31) scale(0.1)" x="0" y="0" font-size="41.46" text-anchor="middle" fill="#333333" stroke="#333333" stroke-width="0" font-family='"DejaVu Sans", "Liberation Sans", sans-serif' font-weight="normal" >−0.2</text>
<line x1="342" y1="159.9" x2="342" y2="161.3" stroke="#333333" stroke-width="0.4"/>
<text transform="translate(342,166.31) scale(0.1)" x="0" y="0" font-size="41.46" text-anchor="middle" fill="#333333" stroke="#333333" stroke-width="0" font-family='"DejaVu Sans", "Liberation Sans", sans-serif' font-weight="normal" >−0.1</text>
<line x1="368.9" y1="159.9" x2="368.9" y2="161.3" stroke="#333333" stroke-width="0.4"/>
<text transform="translate(368.9,166.31) scale(0.1)" x="0" y="0" font-size="41.46" text-anchor="middle" fill="#333333" stroke="#333333" stroke-width="0" font-family='"DejaVu Sans", "Liberation Sans", sans-serif' font-weight="normal" >0.0</text>
<line x1="395.8" y1="159.9" x2="395.8" y2="161.3" stroke="#333333" stroke-width="0.4"/>
<text transform="translate(395.8,166.31) scale(0.1)" x="0" y="0" font-size="41.46" text-anchor="middle" fill="#333333" stroke="#333333" stroke-width="0" font-family='"DejaVu Sans", "Liberation Sans", sans-serif' font-weight="normal" >0.1</text>
<line x1="422.7" y1="159.9" x2="422.7" y2="161.3" stroke="#333333" stroke-width="0.4"/>
<text transform="translate(422.7,166.31) scale(0.1)" x="0" y="0" font-size="41.46" text-anchor="middle" fill="#333333" stroke="#333333" stroke-width="0" font-family='"DejaVu Sans", "Liberation Sans", sans-serif' font-weight="normal" >0.2</text>
<text transform="translate(373.3,171.79) scale(0.1)" x="0" y="0" font-size="49" text-anchor="middle" fill="#333333" stroke="#333333" stroke-width="0" font-family='"DejaVu Sans", "Liberation Sans", sans-serif' font-weight="normal" >SHAP value (impact on model output)</text>
<rect x="452" y="7.3" width="2.1" height="152.5" fill="url(#gb)"/>
<text transform="translate(455,8.81) scale(0.1)" x="0" y="0" font-size="41.46" text-anchor="start" fill="#333333" stroke="#333333" stroke-width="0" font-family='"DejaVu Sans", "Liberation Sans", sans-serif' font-weight="normal" >High</text>
<text transform="translate(455,161.31) scale(0.1)" x="0" y="0" font-size="41.46" text-anchor="start" fill="#333333" stroke="#333333" stroke-width="0" font-family='"DejaVu Sans", "Liberation Sans", sans-serif' font-weight="normal" >Low</text>
<text x="0" y="0" font-size="49.3" text-anchor="middle" fill="#333333" stroke="#333333" stroke-width="0" font-family='"DejaVu Sans", "Liberation Sans", sans-serif' transform="translate(468.7,83.55) rotate(-90) scale(0.1)">Feature value</text>
<text transform="translate(369.3,187) scale(0.1)" x="0" y="0" font-size="100" text-anchor="middle" fill="#000000" stroke="#000000" stroke-width="0" font-family='"Liberation Serif", serif' font-weight="bold" >(b)</text>
<line x1="44" y1="208" x2="184" y2="208" stroke="#f8f8f8" stroke-width="1"/>
<line x1="44" y1="219.5" x2="184" y2="219.5" stroke="#f8f8f8" stroke-width="1"/>
<line x1="44" y1="231" x2="184" y2="231" stroke="#f8f8f8" stroke-width="1"/>
<line x1="44" y1="242.5" x2="184" y2="242.5" stroke="#f8f8f8" stroke-width="1"/>
<line x1="44" y1="254" x2="184" y2="254" stroke="#f8f8f8" stroke-width="1"/>
<line x1="44" y1="265.5" x2="184" y2="265.5" stroke="#f8f8f8" stroke-width="1"/>
<line x1="44" y1="277" x2="184" y2="277" stroke="#f8f8f8" stroke-width="1"/>
<line x1="44" y1="288.5" x2="184" y2="288.5" stroke="#f8f8f8" stroke-width="1"/>
<line x1="44" y1="300" x2="184" y2="300" stroke="#f8f8f8" stroke-width="1"/>
<line x1="44" y1="311.5" x2="184" y2="311.5" stroke="#f8f8f8" stroke-width="1"/>
<line x1="44" y1="323" x2="184" y2="323" stroke="#f8f8f8" stroke-width="1"/>
<line x1="44" y1="334.5" x2="184" y2="334.5" stroke="#f8f8f8" stroke-width="1"/>
<line x1="84.6" y1="196.3" x2="84.6" y2="346.3" stroke="#aaaaaa" stroke-width="0.6"/>
<text transform="translate(34.8,210.4) scale(0.1)" x="0" y="0" font-size="49.5" text-anchor="end" fill="#333333" stroke="#333333" stroke-width="0.8" font-family='"DejaVu Sans", "Liberation Sans", sans-serif' font-weight="normal" >AST</text>
<text transform="translate(34.8,221.9) scale(0.1)" x="0" y="0" font-size="49.5" text-anchor="end" fill="#333333" stroke="#333333" stroke-width="0.8" font-family='"DejaVu Sans", "Liberation Sans", sans-serif' font-weight="normal" >ALP</text>
<text transform="translate(34.8,233.4) scale(0.1)" x="0" y="0" font-size="49.5" text-anchor="end" fill="#333333" stroke="#333333" stroke-width="0.8" font-family='"DejaVu Sans", "Liberation Sans", sans-serif' font-weight="normal" >BIL</text>
<text transform="translate(34.8,244.9) scale(0.1)" x="0" y="0" font-size="49.5" text-anchor="end" fill="#333333" stroke="#333333" stroke-width="0.8" font-family='"DejaVu Sans", "Liberation Sans", sans-serif' font-weight="normal" >GGT</text>
<text transform="translate(34.8,256.4) scale(0.1)" x="0" y="0" font-size="49.5" text-anchor="end" fill="#333333" stroke="#333333" stroke-width="0.8" font-family='"DejaVu Sans", "Liberation Sans", sans-serif' font-weight="normal" >creatinine</text>
<text transform="translate(34.8,267.9) scale(0.1)" x="0" y="0" font-size="49.5" text-anchor="end" fill="#333333" stroke="#333333" stroke-width="0.8" font-family='"DejaVu Sans", "Liberation Sans", sans-serif' font-weight="normal" >AGE</text>
<text transform="translate(34.8,279.4) scale(0.1)" x="0" y="0" font-size="49.5" text-anchor="end" fill="#333333" stroke="#333333" stroke-width="0.8" font-family='"DejaVu Sans", "Liberation Sans", sans-serif' font-weight="normal" >chol</text>
<text transform="translate(34.8,290.9) scale(0.1)" x="0" y="0" font-size="49.5" text-anchor="end" fill="#333333" stroke="#333333" stroke-width="0.8" font-family='"DejaVu Sans", "Liberation Sans", sans-serif' font-weight="normal" >ALT</text>
<text transform="translate(34.8,302.4) scale(0.1)" x="0" y="0" font-size="49.5" text-anchor="end" fill="#333333" stroke="#333333" stroke-width="0.8" font-family='"DejaVu Sans", "Liberation Sans", sans-serif' font-weight="normal" >TP</text>
<text transform="translate(34.8,313.9) scale(0.1)" x="0" y="0" font-size="49.5" text-anchor="end" fill="#333333" stroke="#333333" stroke-width="0.8" font-family='"DejaVu Sans", "Liberation Sans", sans-serif' font-weight="normal" >ALB</text>
<text transform="translate(34.8,325.4) scale(0.1)" x="0" y="0" font-size="49.5" text-anchor="end" fill="#333333" stroke="#333333" stroke-width="0.8" font-family='"DejaVu Sans", "Liberation Sans", sans-serif' font-weight="normal" >GENDER</text>
<text transform="translate(34.8,336.9) scale(0.1)" x="0" y="0" font-size="49.5" text-anchor="end" fill="#333333" stroke="#333333" stroke-width="0.8" font-family='"DejaVu Sans", "Liberation Sans", sans-serif' font-weight="normal" >id</text>
<rect x="49.7" y="207.2" width="1.42" height="1.6" rx="0.3" fill="#a53cc8"/>
<rect x="51.48" y="207.2" width="1.42" height="1.6" rx="0.3" fill="#ff0051"/>
<rect x="53.25" y="207.2" width="1.42" height="1.6" rx="0.3" fill="#ff0051"/>
<rect x="55.02" y="207.2" width="1.42" height="1.6" rx="0.3" fill="#ff0051"/>
<rect x="69.7" y="207.2" width="1.2" height="1.6" rx="0.3" fill="#008bfb"/>
<rect x="71.25" y="207.2" width="1.2" height="1.6" rx="0.3" fill="#008bfb"/>
<rect x="75" y="207.2" width="1.23" height="1.6" rx="0.3" fill="#a53cc8"/>
<rect x="76.58" y="207.2" width="1.23" height="1.6" rx="0.3" fill="#ff0051"/>
<rect x="78.16" y="207.2" width="1.23" height="1.6" rx="0.3" fill="#a53cc8"/>
<rect x="79.74" y="207.2" width="1.23" height="1.6" rx="0.3" fill="#ff0051"/>
<rect x="81.32" y="207.2" width="1.23" height="1.6" rx="0.3" fill="#a53cc8"/>
<rect x="83.1" y="203.4" width="3.2" height="9.2" rx="1.6" fill="#008bfb"/>
<rect x="82.5" y="206.6" width="5.5" height="2.8" rx="1.4" fill="#008bfb"/>
<circle cx="92.6" cy="208" r="0.8" fill="#008bfb"/>
<circle cx="95.5" cy="208" r="0.8" fill="#008bfb"/>
<circle cx="99.7" cy="208" r="0.8" fill="#008bfb"/>
<circle cx="116.1" cy="208" r="0.8" fill="#ff0051"/>
<circle cx="71.9" cy="219.5" r="0.8" fill="#008bfb"/>
<circle cx="129.8" cy="219.5" r="0.8" fill="#e0089e"/>
<rect x="79.8" y="218.2" width="4.7" height="2.6" rx="1.3" fill="#008bfb"/>
<rect x="83.3" y="215.2" width="2.6" height="8.9" rx="1.3" fill="#008bfb"/>
<rect x="85.8" y="218.7" width="16.9" height="1.6" rx="0.8" fill="#ff0051"/>
<rect x="83.1" y="226" width="2.8" height="9.9" rx="1.4" fill="#008bfb"/>
<rect x="82" y="229.8" width="5.5" height="2.4" rx="1.2" fill="#008bfb"/>
<rect x="84" y="228" width="1" height="2" rx="0.5" fill="#ff0051"/>
<circle cx="95.7" cy="231" r="0.8" fill="#ff0051"/>
<circle cx="155" cy="231" r="0.8" fill="#008bfb"/>
<rect x="100.1" y="230.2" width="14.1" height="1.6" rx="0.8" fill="#ff0051"/>
<rect x="67.5" y="241.7" width="1.12" height="1.6" rx="0.3" fill="#008bfb"/>
<rect x="68.97" y="241.7" width="1.12" height="1.6" rx="0.3" fill="#ff0051"/>
<rect x="70.43" y="241.7" width="1.12" height="1.6" rx="0.3" fill="#008bfb"/>
<rect x="76.1" y="241.7" width="1.38" height="1.6" rx="0.3" fill="#ff0051"/>
<rect x="77.82" y="241.7" width="1.38" height="1.6" rx="0.3" fill="#008bfb"/>
<rect x="79.55" y="241.7" width="1.38" height="1.6" rx="0.3" fill="#ff0051"/>
<rect x="81.28" y="241.7" width="1.38" height="1.6" rx="0.3" fill="#a53cc8"/>
<rect x="83.2" y="237.5" width="3.2" height="9.7" rx="1.6" fill="#008bfb"/>
<rect x="84.1" y="237.5" width="1.4" height="2.5" rx="0.7" fill="#ff0051"/>
<rect x="86.5" y="241.7" width="1.27" height="1.6" rx="0.3" fill="#008bfb"/>
<rect x="88.12" y="241.7" width="1.27" height="1.6" rx="0.3" fill="#008bfb"/>
<rect x="89.75" y="241.7" width="1.27" height="1.6" rx="0.3" fill="#008bfb"/>
<rect x="91.38" y="241.7" width="1.27" height="1.6" rx="0.3" fill="#008bfb"/>
<circle cx="95" cy="242.5" r="0.8" fill="#008bfb"/>
<circle cx="105.5" cy="242.5" r="0.8" fill="#008bfb"/>
<circle cx="135.7" cy="242.5" r="0.8" fill="#ff0051"/>
<circle cx="160" cy="242.5" r="0.8" fill="#ff0051"/>
<circle cx="174.6" cy="242.5" r="0.8" fill="#ff0051"/>
<circle cx="178" cy="242.5" r="0.8" fill="#ff0051"/>
<circle cx="55.5" cy="254" r="0.8" fill="#ff0051"/>
<circle cx="57.5" cy="254" r="0.8" fill="#ff0051"/>
<circle cx="98.8" cy="254" r="0.8" fill="#ff0051"/>
<circle cx="105.5" cy="254" r="0.8" fill="#ff0051"/>
<circle cx="143.9" cy="254" r="0.8" fill="#ff0051"/>
<rect x="78.5" y="253.2" width="4.8" height="1.6" rx="0.8" fill="#ff0051"/>
<rect x="83.25" y="249" width="2.3" height="10.1" rx="1.15" fill="#008bfb"/>
<rect x="55" y="264.7" width="1.48" height="1.6" rx="0.3" fill="#008bfb"/>
<rect x="56.83" y="264.7" width="1.48" height="1.6" rx="0.3" fill="#008bfb"/>
<rect x="58.67" y="264.7" width="1.48" height="1.6" rx="0.3" fill="#6a60e0"/>
<circle cx="73.6" cy="265.5" r="0.8" fill="#008bfb"/>
<circle cx="92.2" cy="265.5" r="0.8" fill="#ff0051"/>
<rect x="79.4" y="264.7" width="1.55" height="1.6" rx="0.3" fill="#008bfb"/>
<rect x="81.3" y="264.7" width="1.55" height="1.6" rx="0.3" fill="#008bfb"/>
<rect x="83.85" y="260.9" width="2.1" height="9.7" rx="1.05" fill="#ff0051"/>
<rect x="84.4" y="263.5" width="1" height="4" rx="0.5" fill="#e0089e"/>
<rect x="84" y="264.5" width="4.5" height="2" rx="1" fill="#ff0051"/>
<circle cx="54.3" cy="277" r="0.8" fill="#ff0051"/>
<circle cx="106.3" cy="277" r="0.8" fill="#008bfb"/>
<circle cx="114.6" cy="277" r="0.8" fill="#008bfb"/>
<circle cx="155" cy="277" r="0.8" fill="#008bfb"/>
<rect x="68.8" y="276.2" width="5.3" height="1.6" rx="0.8" fill="#ff0051"/>
<rect x="77.2" y="276.2" width="1.1" height="1.6" rx="0.3" fill="#ff0051"/>
<rect x="78.65" y="276.2" width="1.1" height="1.6" rx="0.3" fill="#a53cc8"/>
<rect x="80.1" y="276.2" width="1.1" height="1.6" rx="0.3" fill="#ff0051"/>
<rect x="81.55" y="276.2" width="1.1" height="1.6" rx="0.3" fill="#ff0051"/>
<rect x="83.7" y="272.3" width="2.2" height="9.2" rx="1.1" fill="#a53cc8"/>
<rect x="84.3" y="274" width="1" height="6" rx="0.5" fill="#008bfb"/>
<rect x="85.5" y="276.2" width="1.15" height="1.6" rx="0.3" fill="#a53cc8"/>
<rect x="87" y="276.2" width="1.15" height="1.6" rx="0.3" fill="#ff0051"/>
<rect x="88.5" y="276.2" width="1.15" height="1.6" rx="0.3" fill="#008bfb"/>
<rect x="79.8" y="287.7" width="3.7" height="1.6" rx="0.8" fill="#ff0051"/>
<rect x="83.75" y="284.1" width="2.1" height="9.2" rx="1.05" fill="#008bfb"/>
<rect x="83.5" y="287.6" width="3.5" height="1.8" rx="0.9" fill="#008bfb"/>
<rect x="88.2" y="287.7" width="1.4" height="1.6" rx="0.3" fill="#008bfb"/>
<rect x="89.95" y="287.7" width="1.4" height="1.6" rx="0.3" fill="#008bfb"/>
<rect x="84" y="295.1" width="1.8" height="9.6" rx="0.9" fill="#ff0051"/>
<rect x="84" y="297.5" width="1.8" height="1.22" fill="#a53cc8"/>
<rect x="84" y="299.9" width="1.8" height="1.22" fill="#e0089e"/>
<rect x="84" y="302.3" width="1.8" height="1.22" fill="#a53cc8"/>
<rect x="84" y="306.6" width="1.8" height="9.6" rx="0.9" fill="#ff0051"/>
<rect x="84" y="307.8" width="1.8" height="1.22" fill="#a53cc8"/>
<rect x="84" y="311.4" width="1.8" height="1.22" fill="#a53cc8"/>
<rect x="84" y="312.6" width="1.8" height="1.22" fill="#e0089e"/>
<rect x="84" y="318.1" width="1.8" height="9.6" rx="0.9" fill="#ff0051"/>
<rect x="84" y="319.3" width="1.8" height="1.22" fill="#008bfb"/>
<rect x="84" y="321.7" width="1.8" height="1.22" fill="#008bfb"/>
<rect x="84" y="322.9" width="1.8" height="1.22" fill="#008bfb"/>
<rect x="84" y="325.3" width="1.8" height="1.22" fill="#008bfb"/>
<rect x="84" y="329.6" width="1.8" height="9.6" rx="0.9" fill="#008bfb"/>
<rect x="84" y="330.8" width="1.8" height="1.22" fill="#ff0051"/>
<rect x="84" y="334.4" width="1.8" height="1.22" fill="#a53cc8"/>
<rect x="84" y="336.8" width="1.8" height="1.22" fill="#ff0051"/>
<line x1="43.8" y1="346.3" x2="185.1" y2="346.3" stroke="#333333" stroke-width="0.5"/>
<line x1="47.1" y1="346.3" x2="47.1" y2="347.7" stroke="#333333" stroke-width="0.4"/>
<text transform="translate(47.1,352.43) scale(0.1)" x="0" y="0" font-size="41.88" text-anchor="middle" fill="#333333" stroke="#333333" stroke-width="0.8" font-family='"DejaVu Sans", "Liberation Sans", sans-serif' font-weight="normal" >−0.4</text>
<line x1="65.85" y1="346.3" x2="65.85" y2="347.7" stroke="#333333" stroke-width="0.4"/>
<text transform="translate(65.85,352.43) scale(0.1)" x="0" y="0" font-size="41.88" text-anchor="middle" fill="#333333" stroke="#333333" stroke-width="0.8" font-family='"DejaVu Sans", "Liberation Sans", sans-serif' font-weight="normal" >−0.2</text>
<line x1="84.6" y1="346.3" x2="84.6" y2="347.7" stroke="#333333" stroke-width="0.4"/>
<text transform="translate(84.6,352.43) scale(0.1)" x="0" y="0" font-size="41.88" text-anchor="middle" fill="#333333" stroke="#333333" stroke-width="0.8" font-family='"DejaVu Sans", "Liberation Sans", sans-serif' font-weight="normal" >0.0</text>
<line x1="103.35" y1="346.3" x2="103.35" y2="347.7" stroke="#333333" stroke-width="0.4"/>
<text transform="translate(103.35,352.43) scale(0.1)" x="0" y="0" font-size="41.88" text-anchor="middle" fill="#333333" stroke="#333333" stroke-width="0.8" font-family='"DejaVu Sans", "Liberation Sans", sans-serif' font-weight="normal" >0.2</text>
<line x1="122.1" y1="346.3" x2="122.1" y2="347.7" stroke="#333333" stroke-width="0.4"/>
<text transform="translate(122.1,352.43) scale(0.1)" x="0" y="0" font-size="41.88" text-anchor="middle" fill="#333333" stroke="#333333" stroke-width="0.8" font-family='"DejaVu Sans", "Liberation Sans", sans-serif' font-weight="normal" >0.4</text>
<line x1="140.85" y1="346.3" x2="140.85" y2="347.7" stroke="#333333" stroke-width="0.4"/>
<text transform="translate(140.85,352.43) scale(0.1)" x="0" y="0" font-size="41.88" text-anchor="middle" fill="#333333" stroke="#333333" stroke-width="0.8" font-family='"DejaVu Sans", "Liberation Sans", sans-serif' font-weight="normal" >0.6</text>
<line x1="159.6" y1="346.3" x2="159.6" y2="347.7" stroke="#333333" stroke-width="0.4"/>
<text transform="translate(159.6,352.43) scale(0.1)" x="0" y="0" font-size="41.88" text-anchor="middle" fill="#333333" stroke="#333333" stroke-width="0.8" font-family='"DejaVu Sans", "Liberation Sans", sans-serif' font-weight="normal" >0.8</text>
<line x1="178.35" y1="346.3" x2="178.35" y2="347.7" stroke="#333333" stroke-width="0.4"/>
<text transform="translate(178.35,352.43) scale(0.1)" x="0" y="0" font-size="41.88" text-anchor="middle" fill="#333333" stroke="#333333" stroke-width="0.8" font-family='"DejaVu Sans", "Liberation Sans", sans-serif' font-weight="normal" >1.0</text>
<text transform="translate(114.2,357.6) scale(0.1)" x="0" y="0" font-size="49.5" text-anchor="middle" fill="#333333" stroke="#333333" stroke-width="0.8" font-family='"DejaVu Sans", "Liberation Sans", sans-serif' font-weight="normal" >SHAP value (impact on model output)</text>
<rect x="193.4" y="196.5" width="2.1" height="149.7" fill="url(#gc)"/>
<text transform="translate(196.4,198.03) scale(0.1)" x="0" y="0" font-size="41.88" text-anchor="start" fill="#333333" stroke="#333333" stroke-width="0.8" font-family='"DejaVu Sans", "Liberation Sans", sans-serif' font-weight="normal" >High</text>
<text transform="translate(196.4,347.73) scale(0.1)" x="0" y="0" font-size="41.88" text-anchor="start" fill="#333333" stroke="#333333" stroke-width="0.8" font-family='"DejaVu Sans", "Liberation Sans", sans-serif' font-weight="normal" >Low</text>
<text x="0" y="0" font-size="49.3" text-anchor="middle" fill="#333333" stroke="#333333" stroke-width="0.8" font-family='"DejaVu Sans", "Liberation Sans", sans-serif' transform="translate(210.5,271.35) rotate(-90) scale(0.1)">Feature value</text>
<text transform="translate(108,374.7) scale(0.1)" x="0" y="0" font-size="100" text-anchor="middle" fill="#000000" stroke="#000000" stroke-width="0" font-family='"Liberation Serif", serif' font-weight="bold" >(c)</text>
<line x1="304" y1="206.2" x2="440.3" y2="206.2" stroke="#f8f8f8" stroke-width="1"/>
<line x1="304" y1="217.95" x2="440.3" y2="217.95" stroke="#f8f8f8" stroke-width="1"/>
<line x1="304" y1="229.7" x2="440.3" y2="229.7" stroke="#f8f8f8" stroke-width="1"/>
<line x1="304" y1="241.45" x2="440.3" y2="241.45" stroke="#f8f8f8" stroke-width="1"/>
<line x1="304" y1="253.2" x2="440.3" y2="253.2" stroke="#f8f8f8" stroke-width="1"/>
<line x1="304" y1="264.95" x2="440.3" y2="264.95" stroke="#f8f8f8" stroke-width="1"/>
<line x1="304" y1="276.7" x2="440.3" y2="276.7" stroke="#f8f8f8" stroke-width="1"/>
<line x1="304" y1="288.45" x2="440.3" y2="288.45" stroke="#f8f8f8" stroke-width="1"/>
<line x1="304" y1="300.2" x2="440.3" y2="300.2" stroke="#f8f8f8" stroke-width="1"/>
<line x1="304" y1="311.95" x2="440.3" y2="311.95" stroke="#f8f8f8" stroke-width="1"/>
<line x1="304" y1="323.7" x2="440.3" y2="323.7" stroke="#f8f8f8" stroke-width="1"/>
<line x1="304" y1="335.45" x2="440.3" y2="335.45" stroke="#f8f8f8" stroke-width="1"/>
<line x1="336.9" y1="195" x2="336.9" y2="347.7" stroke="#aaaaaa" stroke-width="0.6"/>
<text transform="translate(296,208.54) scale(0.1)" x="0" y="0" font-size="47.7" text-anchor="end" fill="#333333" stroke="#333333" stroke-width="0" font-family='"DejaVu Sans", "Liberation Sans", sans-serif' font-weight="normal" >GGT</text>
<text transform="translate(296,220.29) scale(0.1)" x="0" y="0" font-size="47.7" text-anchor="end" fill="#333333" stroke="#333333" stroke-width="0" font-family='"DejaVu Sans", "Liberation Sans", sans-serif' font-weight="normal" >BIL</text>
<text transform="translate(296,232.04) scale(0.1)" x="0" y="0" font-size="47.7" text-anchor="end" fill="#333333" stroke="#333333" stroke-width="0" font-family='"DejaVu Sans", "Liberation Sans", sans-serif' font-weight="normal" >id</text>
<text transform="translate(296,243.79) scale(0.1)" x="0" y="0" font-size="47.7" text-anchor="end" fill="#333333" stroke="#333333" stroke-width="0" font-family='"DejaVu Sans", "Liberation Sans", sans-serif' font-weight="normal" >ALT</text>
<text transform="translate(296,255.54) scale(0.1)" x="0" y="0" font-size="47.7" text-anchor="end" fill="#333333" stroke="#333333" stroke-width="0" font-family='"DejaVu Sans", "Liberation Sans", sans-serif' font-weight="normal" >AST</text>
<text transform="translate(296,267.29) scale(0.1)" x="0" y="0" font-size="47.7" text-anchor="end" fill="#333333" stroke="#333333" stroke-width="0" font-family='"DejaVu Sans", "Liberation Sans", sans-serif' font-weight="normal" >AGE</text>
<text transform="translate(296,279.04) scale(0.1)" x="0" y="0" font-size="47.7" text-anchor="end" fill="#333333" stroke="#333333" stroke-width="0" font-family='"DejaVu Sans", "Liberation Sans", sans-serif' font-weight="normal" >creatinine</text>
<text transform="translate(296,290.79) scale(0.1)" x="0" y="0" font-size="47.7" text-anchor="end" fill="#333333" stroke="#333333" stroke-width="0" font-family='"DejaVu Sans", "Liberation Sans", sans-serif' font-weight="normal" >TP</text>
<text transform="translate(296,302.54) scale(0.1)" x="0" y="0" font-size="47.7" text-anchor="end" fill="#333333" stroke="#333333" stroke-width="0" font-family='"DejaVu Sans", "Liberation Sans", sans-serif' font-weight="normal" >chol</text>
<text transform="translate(296,314.29) scale(0.1)" x="0" y="0" font-size="47.7" text-anchor="end" fill="#333333" stroke="#333333" stroke-width="0" font-family='"DejaVu Sans", "Liberation Sans", sans-serif' font-weight="normal" >ALB</text>
<text transform="translate(296,326.04) scale(0.1)" x="0" y="0" font-size="47.7" text-anchor="end" fill="#333333" stroke="#333333" stroke-width="0" font-family='"DejaVu Sans", "Liberation Sans", sans-serif' font-weight="normal" >ALP</text>
<text transform="translate(296,337.79) scale(0.1)" x="0" y="0" font-size="47.7" text-anchor="end" fill="#333333" stroke="#333333" stroke-width="0" font-family='"DejaVu Sans", "Liberation Sans", sans-serif' font-weight="normal" >GENDER</text>
<circle cx="322.8" cy="206.2" r="0.8" fill="#a53cc8"/>
<circle cx="329.9" cy="206.2" r="0.8" fill="#008bfb"/>
<circle cx="374.5" cy="206.2" r="0.8" fill="#ff0051"/>
<circle cx="380" cy="206.2" r="0.8" fill="#ff0051"/>
<circle cx="392" cy="206.2" r="0.8" fill="#ff0051"/>
<circle cx="406.7" cy="206.2" r="0.8" fill="#ff0051"/>
<circle cx="414" cy="206.2" r="0.8" fill="#ff0051"/>
<rect x="334.2" y="201.4" width="2.8" height="9.4" rx="1.4" fill="#008bfb"/>
<polygon points="332.8,205.6 334.7,204 337.2,204.7 337.2,207.7 334.7,208.4 332.8,206.8" fill="#008bfb"/>
<rect x="336.5" y="205.02" width="1.71" height="2.37" fill="#008bfb"/>
<rect x="338.19" y="205.05" width="1.71" height="2.31" fill="#008bfb"/>
<rect x="339.88" y="205.08" width="1.71" height="2.24" fill="#008bfb"/>
<rect x="341.56" y="205.11" width="1.71" height="2.18" fill="#008bfb"/>
<rect x="343.25" y="205.14" width="1.71" height="2.12" fill="#008bfb"/>
<rect x="344.94" y="205.17" width="1.71" height="2.06" fill="#008bfb"/>
<rect x="346.62" y="205.2" width="1.71" height="1.99" fill="#008bfb"/>
<rect x="348.31" y="205.23" width="1.71" height="1.93" fill="#008bfb"/>
<rect x="350" y="205.26" width="1.65" height="1.88" fill="#008bfb"/>
<rect x="351.62" y="205.29" width="1.65" height="1.82" fill="#ff0051"/>
<rect x="353.25" y="205.31" width="1.65" height="1.77" fill="#008bfb"/>
<rect x="354.88" y="205.34" width="1.65" height="1.72" fill="#a53cc8"/>
<rect x="356.5" y="205.36" width="1.65" height="1.68" fill="#008bfb"/>
<rect x="358.12" y="205.39" width="1.65" height="1.62" fill="#ff0051"/>
<rect x="359.75" y="205.41" width="1.65" height="1.57" fill="#008bfb"/>
<rect x="361.38" y="205.44" width="1.65" height="1.52" fill="#008bfb"/>
<rect x="367.5" y="205.3" width="2.18" height="1.8" rx="0.3" fill="#ff0051"/>
<circle cx="328.1" cy="217.95" r="0.8" fill="#ff0051"/>
<circle cx="375" cy="217.95" r="0.8" fill="#008bfb"/>
<circle cx="377" cy="217.95" r="0.8" fill="#008bfb"/>
<circle cx="383.5" cy="217.95" r="0.8" fill="#008bfb"/>
<circle cx="394" cy="217.95" r="0.8" fill="#008bfb"/>
<circle cx="395.5" cy="217.95" r="0.8" fill="#008bfb"/>
<circle cx="399" cy="217.95" r="0.8" fill="#008bfb"/>
<rect x="330" y="217.05" width="1.38" height="1.8" rx="0.3" fill="#008bfb"/>
<rect x="331.5" y="217.05" width="1.38" height="1.8" rx="0.3" fill="#a53cc8"/>
<rect x="334.2" y="213.55" width="2.8" height="9.2" rx="1.4" fill="#008bfb"/>
<polygon points="332.8,217.35 334.7,215.75 337.2,216.45 337.2,219.45 334.7,220.15 332.8,218.55" fill="#008bfb"/>
<rect x="336.5" y="216.76" width="1.61" height="2.37" fill="#008bfb"/>
<rect x="338.09" y="216.79" width="1.61" height="2.32" fill="#008bfb"/>
<rect x="339.68" y="216.82" width="1.61" height="2.26" fill="#008bfb"/>
<rect x="341.27" y="216.85" width="1.61" height="2.21" fill="#008bfb"/>
<rect x="342.86" y="216.87" width="1.61" height="2.15" fill="#008bfb"/>
<rect x="344.45" y="216.9" width="1.61" height="2.1" fill="#008bfb"/>
<rect x="346.05" y="216.93" width="1.61" height="2.05" fill="#008bfb"/>
<rect x="347.64" y="216.95" width="1.61" height="1.99" fill="#008bfb"/>
<rect x="349.23" y="216.98" width="1.61" height="1.94" fill="#008bfb"/>
<rect x="350.82" y="217.01" width="1.61" height="1.88" fill="#008bfb"/>
<rect x="352.41" y="217.04" width="1.61" height="1.83" fill="#008bfb"/>
<rect x="354" y="217.06" width="1.65" height="1.78" fill="#008bfb"/>
<rect x="355.62" y="217.08" width="1.65" height="1.74" fill="#ff0051"/>
<rect x="357.25" y="217.1" width="1.65" height="1.71" fill="#008bfb"/>
<rect x="358.88" y="217.12" width="1.65" height="1.67" fill="#a53cc8"/>
<rect x="360.5" y="217.13" width="1.65" height="1.63" fill="#ff0051"/>
<rect x="362.12" y="217.15" width="1.65" height="1.59" fill="#008bfb"/>
<rect x="363.75" y="217.17" width="1.65" height="1.56" fill="#008bfb"/>
<rect x="365.38" y="217.19" width="1.65" height="1.52" fill="#ff0051"/>
<circle cx="321.5" cy="229.7" r="0.8" fill="#ff0051"/>
<circle cx="325.9" cy="229.7" r="0.8" fill="#ff0051"/>
<circle cx="370.5" cy="229.7" r="0.8" fill="#008bfb"/>
<circle cx="375" cy="229.7" r="0.8" fill="#008bfb"/>
<circle cx="379.5" cy="229.7" r="0.8" fill="#008bfb"/>
<circle cx="384" cy="229.7" r="0.8" fill="#008bfb"/>
<circle cx="386" cy="229.7" r="0.8" fill="#008bfb"/>
<rect x="328" y="228.8" width="1.55" height="1.8" rx="0.3" fill="#ff0051"/>
<rect x="329.67" y="228.8" width="1.55" height="1.8" rx="0.3" fill="#a53cc8"/>
<rect x="331.33" y="228.8" width="1.55" height="1.8" rx="0.3" fill="#ff0051"/>
<rect x="334.2" y="225.2" width="2.8" height="9.3" rx="1.4" fill="#e0089e"/>
<polygon points="332.8,229.1 334.7,227.5 337.2,228.2 337.2,231.2 334.7,231.9 332.8,230.3" fill="#e0089e"/>
<rect x="336.5" y="228.52" width="1.72" height="2.36" fill="#ff0051"/>
<rect x="338.2" y="228.56" width="1.72" height="2.28" fill="#e0089e"/>
<rect x="339.9" y="228.6" width="1.72" height="2.2" fill="#ff0051"/>
<rect x="341.6" y="228.64" width="1.72" height="2.12" fill="#a53cc8"/>
<rect x="343.3" y="228.68" width="1.72" height="2.04" fill="#ff0051"/>
<rect x="345" y="228.71" width="1.57" height="1.98" fill="#008bfb"/>
<rect x="346.55" y="228.72" width="1.57" height="1.95" fill="#ff0051"/>
<rect x="348.11" y="228.74" width="1.57" height="1.92" fill="#008bfb"/>
<rect x="349.66" y="228.76" width="1.57" height="1.88" fill="#a53cc8"/>
<rect x="351.21" y="228.77" width="1.57" height="1.85" fill="#008bfb"/>
<rect x="352.77" y="228.79" width="1.57" height="1.82" fill="#ff0051"/>
<rect x="354.32" y="228.81" width="1.57" height="1.78" fill="#008bfb"/>
<rect x="355.87" y="228.82" width="1.57" height="1.75" fill="#ff0051"/>
<rect x="357.43" y="228.84" width="1.57" height="1.72" fill="#008bfb"/>
<rect x="358.98" y="228.86" width="1.57" height="1.68" fill="#a53cc8"/>
<rect x="360.53" y="228.88" width="1.57" height="1.65" fill="#008bfb"/>
<rect x="362.09" y="228.89" width="1.57" height="1.62" fill="#ff0051"/>
<rect x="363.64" y="228.91" width="1.57" height="1.58" fill="#008bfb"/>
<rect x="365.19" y="228.92" width="1.57" height="1.55" fill="#ff0051"/>
<rect x="366.75" y="228.94" width="1.57" height="1.52" fill="#008bfb"/>
<circle cx="320" cy="241.45" r="0.8" fill="#008bfb"/>
<circle cx="322.5" cy="241.45" r="0.8" fill="#a53cc8"/>
<circle cx="325" cy="241.45" r="0.8" fill="#008bfb"/>
<circle cx="367.6" cy="241.45" r="0.8" fill="#a53cc8"/>
<circle cx="371" cy="241.45" r="0.8" fill="#ff0051"/>
<circle cx="386.8" cy="241.45" r="0.8" fill="#ff0051"/>
<rect x="327" y="240.55" width="1.38" height="1.8" rx="0.3" fill="#a53cc8"/>
<rect x="328.5" y="240.55" width="1.38" height="1.8" rx="0.3" fill="#008bfb"/>
<rect x="330" y="240.55" width="1.38" height="1.8" rx="0.3" fill="#008bfb"/>
<rect x="331.5" y="240.55" width="1.38" height="1.8" rx="0.3" fill="#a53cc8"/>
<rect x="334.2" y="236.85" width="2.8" height="9.2" rx="1.4" fill="#008bfb"/>
<polygon points="332.8,240.85 334.7,239.25 337.2,239.95 337.2,242.95 334.7,243.65 332.8,242.05" fill="#008bfb"/>
<rect x="335.7" y="239.45" width="1" height="4" rx="0.5" fill="#a53cc8"/>
<rect x="336.5" y="240.26" width="1.64" height="2.37" fill="#008bfb"/>
<rect x="338.12" y="240.29" width="1.64" height="2.32" fill="#a53cc8"/>
<rect x="339.74" y="240.32" width="1.64" height="2.27" fill="#008bfb"/>
<rect x="341.35" y="240.34" width="1.64" height="2.21" fill="#008bfb"/>
<rect x="342.97" y="240.37" width="1.64" height="2.16" fill="#ff0051"/>
<rect x="344.59" y="240.4" width="1.64" height="2.11" fill="#008bfb"/>
<rect x="346.21" y="240.42" width="1.64" height="2.06" fill="#a53cc8"/>
<rect x="347.82" y="240.45" width="1.64" height="2" fill="#008bfb"/>
<rect x="349.44" y="240.47" width="1.64" height="1.95" fill="#a53cc8"/>
<rect x="351.06" y="240.5" width="1.64" height="1.9" fill="#008bfb"/>
<rect x="352.68" y="240.53" width="1.64" height="1.84" fill="#008bfb"/>
<rect x="354.29" y="240.55" width="1.64" height="1.79" fill="#ff0051"/>
<rect x="355.91" y="240.58" width="1.64" height="1.74" fill="#008bfb"/>
<rect x="357.53" y="240.61" width="1.64" height="1.69" fill="#a53cc8"/>
<rect x="359.15" y="240.63" width="1.64" height="1.63" fill="#008bfb"/>
<rect x="360.76" y="240.66" width="1.64" height="1.58" fill="#a53cc8"/>
<rect x="362.38" y="240.69" width="1.64" height="1.53" fill="#008bfb"/>
<circle cx="371" cy="253.2" r="0.8" fill="#ff0051"/>
<rect x="329" y="252.3" width="1.88" height="1.8" rx="0.3" fill="#008bfb"/>
<rect x="331" y="252.3" width="1.88" height="1.8" rx="0.3" fill="#008bfb"/>
<rect x="334.2" y="248.6" width="2.8" height="9.2" rx="1.4" fill="#008bfb"/>
<polygon points="332.8,252.6 334.7,251 337.2,251.7 337.2,254.7 334.7,255.4 332.8,253.8" fill="#008bfb"/>
<rect x="336.5" y="252.02" width="1.71" height="2.37" fill="#008bfb"/>
<rect x="338.19" y="252.05" width="1.71" height="2.31" fill="#008bfb"/>
<rect x="339.88" y="252.08" width="1.71" height="2.24" fill="#ff0051"/>
<rect x="341.56" y="252.11" width="1.71" height="2.18" fill="#008bfb"/>
<rect x="343.25" y="252.14" width="1.71" height="2.12" fill="#008bfb"/>
<rect x="344.94" y="252.17" width="1.71" height="2.06" fill="#008bfb"/>
<rect x="346.62" y="252.2" width="1.71" height="1.99" fill="#ff0051"/>
<rect x="348.31" y="252.23" width="1.71" height="1.93" fill="#008bfb"/>
<rect x="350" y="252.26" width="1.62" height="1.88" fill="#ff0051"/>
<rect x="351.6" y="252.28" width="1.62" height="1.84" fill="#008bfb"/>
<rect x="353.2" y="252.3" width="1.62" height="1.8" fill="#ff0051"/>
<rect x="354.8" y="252.32" width="1.62" height="1.76" fill="#008bfb"/>
<rect x="356.4" y="252.34" width="1.62" height="1.72" fill="#a53cc8"/>
<rect x="358" y="252.36" width="1.62" height="1.68" fill="#ff0051"/>
<rect x="359.6" y="252.38" width="1.62" height="1.64" fill="#008bfb"/>
<rect x="361.2" y="252.4" width="1.62" height="1.6" fill="#ff0051"/>
<rect x="362.8" y="252.42" width="1.62" height="1.56" fill="#008bfb"/>
<rect x="364.4" y="252.44" width="1.62" height="1.52" fill="#a53cc8"/>
<circle cx="321.5" cy="264.95" r="0.8" fill="#a53cc8"/>
<circle cx="327" cy="264.95" r="0.8" fill="#a53cc8"/>
<circle cx="368.8" cy="264.95" r="0.8" fill="#008bfb"/>
<circle cx="371.5" cy="264.95" r="0.8" fill="#008bfb"/>
<rect x="331" y="264.05" width="1.38" height="1.8" rx="0.3" fill="#ff0051"/>
<rect x="332.5" y="264.05" width="1.38" height="1.8" rx="0.3" fill="#a53cc8"/>
<rect x="334.2" y="260.35" width="2.8" height="9.2" rx="1.4" fill="#e0089e"/>
<polygon points="332.8,264.35 334.7,262.75 337.2,263.45 337.2,266.45 334.7,267.15 332.8,265.55" fill="#e0089e"/>
<rect x="335.7" y="263.45" width="1" height="3" rx="0.5" fill="#008bfb"/>
<rect x="336.5" y="263.76" width="1.57" height="2.38" fill="#ff0051"/>
<rect x="338.05" y="263.79" width="1.57" height="2.32" fill="#e0089e"/>
<rect x="339.6" y="263.81" width="1.57" height="2.27" fill="#ff0051"/>
<rect x="341.15" y="263.84" width="1.57" height="2.23" fill="#ff0051"/>
<rect x="342.7" y="263.86" width="1.57" height="2.17" fill="#a53cc8"/>
<rect x="344.25" y="263.89" width="1.57" height="2.12" fill="#ff0051"/>
<rect x="345.8" y="263.91" width="1.57" height="2.07" fill="#e0089e"/>
<rect x="347.35" y="263.94" width="1.57" height="2.02" fill="#ff0051"/>
<rect x="348.9" y="263.96" width="1.57" height="1.97" fill="#ff0051"/>
<rect x="350.45" y="263.99" width="1.57" height="1.92" fill="#a53cc8"/>
<rect x="352" y="264.01" width="1.64" height="1.88" fill="#008bfb"/>
<rect x="353.62" y="264.03" width="1.64" height="1.83" fill="#ff0051"/>
<rect x="355.24" y="264.06" width="1.64" height="1.79" fill="#008bfb"/>
<rect x="356.87" y="264.08" width="1.64" height="1.74" fill="#008bfb"/>
<rect x="358.49" y="264.1" width="1.64" height="1.7" fill="#008bfb"/>
<rect x="360.11" y="264.12" width="1.64" height="1.66" fill="#ff0051"/>
<rect x="361.73" y="264.14" width="1.64" height="1.61" fill="#008bfb"/>
<rect x="363.36" y="264.17" width="1.64" height="1.57" fill="#008bfb"/>
<rect x="364.98" y="264.19" width="1.64" height="1.52" fill="#008bfb"/>
<circle cx="314" cy="276.7" r="0.8" fill="#ff0051"/>
<circle cx="325" cy="276.7" r="0.8" fill="#008bfb"/>
<circle cx="362" cy="276.7" r="0.8" fill="#ff0051"/>
<circle cx="366.5" cy="276.7" r="0.8" fill="#ff0051"/>
<circle cx="371" cy="276.7" r="0.8" fill="#ff0051"/>
<circle cx="375.7" cy="276.7" r="0.8" fill="#ff0051"/>
<circle cx="385" cy="276.7" r="0.8" fill="#ff0051"/>
<circle cx="392" cy="276.7" r="0.8" fill="#ff0051"/>
<circle cx="394" cy="276.7" r="0.8" fill="#ff0051"/>
<circle cx="435" cy="276.7" r="0.8" fill="#ff0051"/>
<rect x="330" y="275.8" width="1.88" height="1.8" rx="0.3" fill="#008bfb"/>
<rect x="332" y="275.8" width="1.88" height="1.8" rx="0.3" fill="#008bfb"/>
<rect x="334.2" y="272.1" width="2.8" height="9.2" rx="1.4" fill="#008bfb"/>
<polygon points="332.8,276.1 334.7,274.5 337.2,275.2 337.2,278.2 334.7,278.9 332.8,277.3" fill="#008bfb"/>
<rect x="336.5" y="275.51" width="1.57" height="2.38" fill="#008bfb"/>
<rect x="338.05" y="275.54" width="1.57" height="2.32" fill="#008bfb"/>
<rect x="339.6" y="275.56" width="1.57" height="2.27" fill="#008bfb"/>
<rect x="341.15" y="275.59" width="1.57" height="2.23" fill="#a53cc8"/>
<rect x="342.7" y="275.61" width="1.57" height="2.17" fill="#008bfb"/>
<rect x="344.25" y="275.64" width="1.57" height="2.12" fill="#008bfb"/>
<rect x="345.8" y="275.66" width="1.57" height="2.07" fill="#008bfb"/>
<rect x="347.35" y="275.69" width="1.57" height="2.02" fill="#a53cc8"/>
<rect x="348.9" y="275.71" width="1.57" height="1.97" fill="#008bfb"/>
<rect x="350.45" y="275.74" width="1.57" height="1.92" fill="#008bfb"/>
<rect x="352" y="275.76" width="1.72" height="1.87" fill="#ff0051"/>
<rect x="353.7" y="275.8" width="1.72" height="1.81" fill="#008bfb"/>
<rect x="355.4" y="275.82" width="1.72" height="1.75" fill="#ff0051"/>
<rect x="357.1" y="275.85" width="1.72" height="1.69" fill="#ff0051"/>
<rect x="358.8" y="275.88" width="1.72" height="1.63" fill="#008bfb"/>
<circle cx="319.6" cy="288.45" r="0.8" fill="#ff0051"/>
<circle cx="375" cy="288.45" r="0.8" fill="#008bfb"/>
<circle cx="386" cy="288.45" r="0.8" fill="#ff0051"/>
<rect x="326" y="287.55" width="1.48" height="1.8" rx="0.3" fill="#ff0051"/>
<rect x="327.6" y="287.55" width="1.48" height="1.8" rx="0.3" fill="#a53cc8"/>
<rect x="329.2" y="287.55" width="1.48" height="1.8" rx="0.3" fill="#ff0051"/>
<rect x="330.8" y="287.55" width="1.48" height="1.8" rx="0.3" fill="#008bfb"/>
<rect x="332.4" y="287.55" width="1.48" height="1.8" rx="0.3" fill="#ff0051"/>
<rect x="334.2" y="283.85" width="2.8" height="9.2" rx="1.4" fill="#a53cc8"/>
<polygon points="332.8,287.85 334.7,286.25 337.2,286.95 337.2,289.95 334.7,290.65 332.8,289.05" fill="#a53cc8"/>
<rect x="335.7" y="285.45" width="1" height="3" rx="0.5" fill="#008bfb"/>
<rect x="336.5" y="287.26" width="1.66" height="2.37" fill="#ff0051"/>
<rect x="338.14" y="287.29" width="1.66" height="2.31" fill="#a53cc8"/>
<rect x="339.79" y="287.32" width="1.66" height="2.26" fill="#ff0051"/>
<rect x="341.43" y="287.35" width="1.66" height="2.2" fill="#e0089e"/>
<rect x="343.07" y="287.38" width="1.66" height="2.14" fill="#ff0051"/>
<rect x="344.71" y="287.41" width="1.66" height="2.09" fill="#a53cc8"/>
<rect x="346.36" y="287.44" width="1.66" height="2.03" fill="#ff0051"/>
<rect x="348" y="287.46" width="1.65" height="1.98" fill="#008bfb"/>
<rect x="349.62" y="287.48" width="1.65" height="1.94" fill="#ff0051"/>
<rect x="351.25" y="287.5" width="1.65" height="1.9" fill="#008bfb"/>
<rect x="352.88" y="287.52" width="1.65" height="1.85" fill="#a53cc8"/>
<rect x="354.5" y="287.54" width="1.65" height="1.81" fill="#008bfb"/>
<rect x="356.12" y="287.56" width="1.65" height="1.77" fill="#008bfb"/>
<rect x="357.75" y="287.59" width="1.65" height="1.73" fill="#ff0051"/>
<rect x="359.38" y="287.61" width="1.65" height="1.69" fill="#008bfb"/>
<rect x="361" y="287.63" width="1.65" height="1.65" fill="#a53cc8"/>
<rect x="362.62" y="287.65" width="1.65" height="1.6" fill="#008bfb"/>
<rect x="364.25" y="287.67" width="1.65" height="1.56" fill="#008bfb"/>
<rect x="365.88" y="287.69" width="1.65" height="1.52" fill="#ff0051"/>
<circle cx="324" cy="300.2" r="0.8" fill="#ff0051"/>
<circle cx="326" cy="300.2" r="0.8" fill="#ff0051"/>
<circle cx="371.5" cy="300.2" r="0.8" fill="#008bfb"/>
<rect x="330" y="299.3" width="1.88" height="1.8" rx="0.3" fill="#ff0051"/>
<rect x="332" y="299.3" width="1.88" height="1.8" rx="0.3" fill="#008bfb"/>
<rect x="334.2" y="295.6" width="2.8" height="9.2" rx="1.4" fill="#008bfb"/>
<polygon points="332.8,299.6 334.7,298 337.2,298.7 337.2,301.7 334.7,302.4 332.8,300.8" fill="#008bfb"/>
<rect x="335.7" y="296.2" width="1" height="3" rx="0.5" fill="#ff0051"/>
<rect x="336.5" y="299.02" width="1.6" height="2.37" fill="#ff0051"/>
<rect x="338.08" y="299.05" width="1.6" height="2.3" fill="#ff0051"/>
<rect x="339.67" y="299.08" width="1.6" height="2.23" fill="#a53cc8"/>
<rect x="341.25" y="299.12" width="1.6" height="2.17" fill="#ff0051"/>
<rect x="342.83" y="299.15" width="1.6" height="2.1" fill="#ff0051"/>
<rect x="344.42" y="299.18" width="1.6" height="2.03" fill="#a53cc8"/>
<rect x="346" y="299.21" width="1.6" height="1.98" fill="#008bfb"/>
<rect x="347.58" y="299.23" width="1.6" height="1.94" fill="#008bfb"/>
<rect x="349.17" y="299.25" width="1.6" height="1.9" fill="#ff0051"/>
<rect x="350.75" y="299.27" width="1.6" height="1.85" fill="#008bfb"/>
<rect x="352.33" y="299.29" width="1.6" height="1.81" fill="#008bfb"/>
<rect x="353.92" y="299.31" width="1.6" height="1.77" fill="#008bfb"/>
<rect x="355.5" y="299.34" width="1.6" height="1.73" fill="#ff0051"/>
<rect x="357.08" y="299.36" width="1.6" height="1.69" fill="#008bfb"/>
<rect x="358.67" y="299.38" width="1.6" height="1.65" fill="#008bfb"/>
<rect x="360.25" y="299.4" width="1.6" height="1.6" fill="#008bfb"/>
<rect x="361.83" y="299.42" width="1.6" height="1.56" fill="#ff0051"/>
<rect x="363.42" y="299.44" width="1.6" height="1.52" fill="#008bfb"/>
<circle cx="319.3" cy="311.95" r="0.8" fill="#a53cc8"/>
<circle cx="322.5" cy="311.95" r="0.8" fill="#008bfb"/>
<circle cx="324.6" cy="311.95" r="0.8" fill="#a53cc8"/>
<circle cx="360.5" cy="311.95" r="0.8" fill="#ff0051"/>
<circle cx="363" cy="311.95" r="0.8" fill="#a53cc8"/>
<circle cx="366" cy="311.95" r="0.8" fill="#ff0051"/>
<circle cx="369" cy="311.95" r="0.8" fill="#ff0051"/>
<circle cx="371.5" cy="311.95" r="0.8" fill="#a53cc8"/>
<circle cx="374" cy="311.95" r="0.8" fill="#ff0051"/>
<circle cx="376.5" cy="311.95" r="0.8" fill="#ff0051"/>
<rect x="326" y="311.05" width="1.48" height="1.8" rx="0.3" fill="#a53cc8"/>
<rect x="327.6" y="311.05" width="1.48" height="1.8" rx="0.3" fill="#008bfb"/>
<rect x="329.2" y="311.05" width="1.48" height="1.8" rx="0.3" fill="#ff0051"/>
<rect x="330.8" y="311.05" width="1.48" height="1.8" rx="0.3" fill="#ff0051"/>
<rect x="332.4" y="311.05" width="1.48" height="1.8" rx="0.3" fill="#a53cc8"/>
<rect x="334.2" y="307.35" width="2.8" height="8.8" rx="1.4" fill="#e0089e"/>
<polygon points="332.8,311.35 334.7,309.75 337.2,310.45 337.2,313.45 334.7,314.15 332.8,312.55" fill="#e0089e"/>
<rect x="336.5" y="310.76" width="1.56" height="2.38" fill="#ff0051"/>
<rect x="338.04" y="310.79" width="1.56" height="2.32" fill="#ff0051"/>
<rect x="339.57" y="310.81" width="1.56" height="2.27" fill="#ff0051"/>
<rect x="341.11" y="310.84" width="1.56" height="2.23" fill="#ff0051"/>
<rect x="342.65" y="310.86" width="1.56" height="2.17" fill="#ff0051"/>
<rect x="344.19" y="310.89" width="1.56" height="2.12" fill="#ff0051"/>
<rect x="345.73" y="310.91" width="1.56" height="2.08" fill="#ff0051"/>
<rect x="347.26" y="310.94" width="1.56" height="2.02" fill="#ff0051"/>
<rect x="348.8" y="310.97" width="1.6" height="1.96" fill="#a53cc8"/>
<rect x="350.38" y="311.01" width="1.6" height="1.88" fill="#008bfb"/>
<rect x="351.96" y="311.05" width="1.6" height="1.8" fill="#a53cc8"/>
<rect x="353.54" y="311.09" width="1.6" height="1.72" fill="#008bfb"/>
<rect x="355.12" y="311.13" width="1.6" height="1.64" fill="#a53cc8"/>
<circle cx="311" cy="323.7" r="0.8" fill="#ff0051"/>
<circle cx="323.7" cy="323.7" r="0.8" fill="#008bfb"/>
<circle cx="326" cy="323.7" r="0.8" fill="#ff0051"/>
<circle cx="328.5" cy="323.7" r="0.8" fill="#008bfb"/>
<circle cx="331" cy="323.7" r="0.8" fill="#a53cc8"/>
<circle cx="375" cy="323.7" r="0.8" fill="#008bfb"/>
<rect x="334.2" y="319.3" width="2.8" height="8.8" rx="1.4" fill="#008bfb"/>
<polygon points="332.8,323.1 334.7,321.5 337.2,322.2 337.2,325.2 334.7,325.9 332.8,324.3" fill="#008bfb"/>
<rect x="336.5" y="322.51" width="1.6" height="2.38" fill="#008bfb"/>
<rect x="338.08" y="322.54" width="1.6" height="2.32" fill="#008bfb"/>
<rect x="339.67" y="322.56" width="1.6" height="2.27" fill="#a53cc8"/>
<rect x="341.25" y="322.59" width="1.6" height="2.23" fill="#008bfb"/>
<rect x="342.83" y="322.61" width="1.6" height="2.17" fill="#008bfb"/>
<rect x="344.42" y="322.64" width="1.6" height="2.12" fill="#ff0051"/>
<rect x="346" y="322.66" width="1.6" height="2.08" fill="#008bfb"/>
<rect x="347.58" y="322.69" width="1.6" height="2.02" fill="#008bfb"/>
<rect x="349.17" y="322.71" width="1.6" height="1.97" fill="#a53cc8"/>
<rect x="350.75" y="322.74" width="1.6" height="1.93" fill="#008bfb"/>
<rect x="352.33" y="322.76" width="1.6" height="1.88" fill="#008bfb"/>
<rect x="353.92" y="322.79" width="1.6" height="1.82" fill="#ff0051"/>
<rect x="355.5" y="322.81" width="1.6" height="1.77" fill="#008bfb"/>
<rect x="357.08" y="322.84" width="1.6" height="1.73" fill="#008bfb"/>
<rect x="358.67" y="322.86" width="1.6" height="1.67" fill="#a53cc8"/>
<rect x="360.25" y="322.89" width="1.6" height="1.62" fill="#008bfb"/>
<rect x="361.83" y="322.91" width="1.6" height="1.58" fill="#008bfb"/>
<rect x="363.42" y="322.94" width="1.6" height="1.52" fill="#ff0051"/>
<circle cx="326.8" cy="335.45" r="0.8" fill="#008bfb"/>
<rect x="333" y="334.55" width="1.39" height="1.8" rx="0.3" fill="#008bfb"/>
<rect x="334.51" y="334.55" width="1.39" height="1.8" rx="0.3" fill="#008bfb"/>
<rect x="336.02" y="334.55" width="1.39" height="1.8" rx="0.3" fill="#ff0051"/>
<rect x="337.53" y="334.55" width="1.39" height="1.8" rx="0.3" fill="#008bfb"/>
<rect x="339.04" y="334.55" width="1.39" height="1.8" rx="0.3" fill="#008bfb"/>
<rect x="340.56" y="334.55" width="1.39" height="1.8" rx="0.3" fill="#008bfb"/>
<rect x="342.07" y="334.55" width="1.39" height="1.8" rx="0.3" fill="#008bfb"/>
<rect x="343.58" y="334.55" width="1.39" height="1.8" rx="0.3" fill="#ff0051"/>
<rect x="345.09" y="334.55" width="1.39" height="1.8" rx="0.3" fill="#008bfb"/>
<rect x="335.7" y="330.55" width="2.6" height="10.1" rx="1.3" fill="#008bfb"/>
<rect x="336.5" y="332.95" width="1" height="5.5" rx="0.5" fill="#ff0051"/>
<line x1="304.6" y1="347.7" x2="441.7" y2="347.7" stroke="#333333" stroke-width="0.5"/>
<line x1="313.4" y1="347.7" x2="313.4" y2="349.1" stroke="#333333" stroke-width="0.4"/>
<text transform="translate(313.4,354.17) scale(0.1)" x="0" y="0" font-size="40.36" text-anchor="middle" fill="#333333" stroke="#333333" stroke-width="0" font-family='"DejaVu Sans", "Liberation Sans", sans-serif' font-weight="normal" >−0.2</text>
<line x1="336.9" y1="347.7" x2="336.9" y2="349.1" stroke="#333333" stroke-width="0.4"/>
<text transform="translate(336.9,354.17) scale(0.1)" x="0" y="0" font-size="40.36" text-anchor="middle" fill="#333333" stroke="#333333" stroke-width="0" font-family='"DejaVu Sans", "Liberation Sans", sans-serif' font-weight="normal" >0.0</text>
<line x1="360.4" y1="347.7" x2="360.4" y2="349.1" stroke="#333333" stroke-width="0.4"/>
<text transform="translate(360.4,354.17) scale(0.1)" x="0" y="0" font-size="40.36" text-anchor="middle" fill="#333333" stroke="#333333" stroke-width="0" font-family='"DejaVu Sans", "Liberation Sans", sans-serif' font-weight="normal" >0.2</text>
<line x1="383.9" y1="347.7" x2="383.9" y2="349.1" stroke="#333333" stroke-width="0.4"/>
<text transform="translate(383.9,354.17) scale(0.1)" x="0" y="0" font-size="40.36" text-anchor="middle" fill="#333333" stroke="#333333" stroke-width="0" font-family='"DejaVu Sans", "Liberation Sans", sans-serif' font-weight="normal" >0.4</text>
<line x1="407.4" y1="347.7" x2="407.4" y2="349.1" stroke="#333333" stroke-width="0.4"/>
<text transform="translate(407.4,354.17) scale(0.1)" x="0" y="0" font-size="40.36" text-anchor="middle" fill="#333333" stroke="#333333" stroke-width="0" font-family='"DejaVu Sans", "Liberation Sans", sans-serif' font-weight="normal" >0.6</text>
<line x1="430.9" y1="347.7" x2="430.9" y2="349.1" stroke="#333333" stroke-width="0.4"/>
<text transform="translate(430.9,354.17) scale(0.1)" x="0" y="0" font-size="40.36" text-anchor="middle" fill="#333333" stroke="#333333" stroke-width="0" font-family='"DejaVu Sans", "Liberation Sans", sans-serif' font-weight="normal" >0.8</text>
<text transform="translate(372.6,359.74) scale(0.1)" x="0" y="0" font-size="47.7" text-anchor="middle" fill="#333333" stroke="#333333" stroke-width="0" font-family='"DejaVu Sans", "Liberation Sans", sans-serif' font-weight="normal" >SHAP value (impact on model output)</text>
<rect x="449.8" y="194.4" width="2" height="153" fill="url(#gd)"/>
<text transform="translate(452.7,195.87) scale(0.1)" x="0" y="0" font-size="40.36" text-anchor="start" fill="#333333" stroke="#333333" stroke-width="0" font-family='"DejaVu Sans", "Liberation Sans", sans-serif' font-weight="normal" >High</text>
<text transform="translate(452.7,348.87) scale(0.1)" x="0" y="0" font-size="40.36" text-anchor="start" fill="#333333" stroke="#333333" stroke-width="0" font-family='"DejaVu Sans", "Liberation Sans", sans-serif' font-weight="normal" >Low</text>
<text x="0" y="0" font-size="48.7" text-anchor="middle" fill="#333333" stroke="#333333" stroke-width="0" font-family='"DejaVu Sans", "Liberation Sans", sans-serif' transform="translate(466.78,270.9) rotate(-90) scale(0.1)">Feature value</text>
<text transform="translate(369,375.4) scale(0.1)" x="0" y="0" font-size="100" text-anchor="middle" fill="#000000" stroke="#000000" stroke-width="0" font-family='"Liberation Serif", serif' font-weight="bold" >(d)</text>
<line x1="166.4" y1="392" x2="312" y2="392" stroke="#f8f8f8" stroke-width="1"/>
<line x1="166.4" y1="402.62" x2="312" y2="402.62" stroke="#f8f8f8" stroke-width="1"/>
<line x1="166.4" y1="413.24" x2="312" y2="413.24" stroke="#f8f8f8" stroke-width="1"/>
<line x1="166.4" y1="423.86" x2="312" y2="423.86" stroke="#f8f8f8" stroke-width="1"/>
<line x1="166.4" y1="434.48" x2="312" y2="434.48" stroke="#f8f8f8" stroke-width="1"/>
<line x1="166.4" y1="445.1" x2="312" y2="445.1" stroke="#f8f8f8" stroke-width="1"/>
<line x1="166.4" y1="455.72" x2="312" y2="455.72" stroke="#f8f8f8" stroke-width="1"/>
<line x1="166.4" y1="466.34" x2="312" y2="466.34" stroke="#f8f8f8" stroke-width="1"/>
<line x1="166.4" y1="476.96" x2="312" y2="476.96" stroke="#f8f8f8" stroke-width="1"/>
<line x1="166.4" y1="487.58" x2="312" y2="487.58" stroke="#f8f8f8" stroke-width="1"/>
<line x1="166.4" y1="498.2" x2="312" y2="498.2" stroke="#f8f8f8" stroke-width="1"/>
<line x1="166.4" y1="508.82" x2="312" y2="508.82" stroke="#f8f8f8" stroke-width="1"/>
<line x1="239.7" y1="381.3" x2="239.7" y2="519.5" stroke="#aaaaaa" stroke-width="0.6"/>
<text transform="translate(161,394.36) scale(0.1)" x="0" y="0" font-size="48.4" text-anchor="end" fill="#333333" stroke="#333333" stroke-width="0" font-family='"DejaVu Sans", "Liberation Sans", sans-serif' font-weight="normal" >ALP</text>
<text transform="translate(161,404.98) scale(0.1)" x="0" y="0" font-size="48.4" text-anchor="end" fill="#333333" stroke="#333333" stroke-width="0" font-family='"DejaVu Sans", "Liberation Sans", sans-serif' font-weight="normal" >TP</text>
<text transform="translate(161,415.6) scale(0.1)" x="0" y="0" font-size="48.4" text-anchor="end" fill="#333333" stroke="#333333" stroke-width="0" font-family='"DejaVu Sans", "Liberation Sans", sans-serif' font-weight="normal" >GGT</text>
<text transform="translate(161,426.22) scale(0.1)" x="0" y="0" font-size="48.4" text-anchor="end" fill="#333333" stroke="#333333" stroke-width="0" font-family='"DejaVu Sans", "Liberation Sans", sans-serif' font-weight="normal" >creatinine</text>
<text transform="translate(161,436.84) scale(0.1)" x="0" y="0" font-size="48.4" text-anchor="end" fill="#333333" stroke="#333333" stroke-width="0" font-family='"DejaVu Sans", "Liberation Sans", sans-serif' font-weight="normal" >chol</text>
<text transform="translate(161,447.46) scale(0.1)" x="0" y="0" font-size="48.4" text-anchor="end" fill="#333333" stroke="#333333" stroke-width="0" font-family='"DejaVu Sans", "Liberation Sans", sans-serif' font-weight="normal" >BIL</text>
<text transform="translate(161,458.08) scale(0.1)" x="0" y="0" font-size="48.4" text-anchor="end" fill="#333333" stroke="#333333" stroke-width="0" font-family='"DejaVu Sans", "Liberation Sans", sans-serif' font-weight="normal" >AST</text>
<text transform="translate(161,468.7) scale(0.1)" x="0" y="0" font-size="48.4" text-anchor="end" fill="#333333" stroke="#333333" stroke-width="0" font-family='"DejaVu Sans", "Liberation Sans", sans-serif' font-weight="normal" >ALT</text>
<text transform="translate(161,479.32) scale(0.1)" x="0" y="0" font-size="48.4" text-anchor="end" fill="#333333" stroke="#333333" stroke-width="0" font-family='"DejaVu Sans", "Liberation Sans", sans-serif' font-weight="normal" >ALB</text>
<text transform="translate(161,489.94) scale(0.1)" x="0" y="0" font-size="48.4" text-anchor="end" fill="#333333" stroke="#333333" stroke-width="0" font-family='"DejaVu Sans", "Liberation Sans", sans-serif' font-weight="normal" >AGE</text>
<text transform="translate(161,500.56) scale(0.1)" x="0" y="0" font-size="48.4" text-anchor="end" fill="#333333" stroke="#333333" stroke-width="0" font-family='"DejaVu Sans", "Liberation Sans", sans-serif' font-weight="normal" >GENDER</text>
<text transform="translate(161,511.18) scale(0.1)" x="0" y="0" font-size="48.4" text-anchor="end" fill="#333333" stroke="#333333" stroke-width="0" font-family='"DejaVu Sans", "Liberation Sans", sans-serif' font-weight="normal" >id</text>
<rect x="238.9" y="387.5" width="2.2" height="8.9" rx="1.1" fill="#008bfb"/>
<rect x="238.9" y="388.77" width="2.2" height="1.29" fill="#ff0051"/>
<rect x="238.9" y="392.59" width="2.2" height="1.29" fill="#a53cc8"/>
<rect x="238.9" y="397.82" width="2.2" height="9.6" rx="1.1" fill="#ff0051"/>
<rect x="238.9" y="400.22" width="2.2" height="1.22" fill="#e0089e"/>
<rect x="238.9" y="402.62" width="2.2" height="1.22" fill="#a53cc8"/>
<rect x="238.9" y="408.74" width="2.2" height="8.9" rx="1.1" fill="#008bfb"/>
<rect x="238.9" y="411.28" width="2.2" height="1.29" fill="#a53cc8"/>
<rect x="238.9" y="415.1" width="2.2" height="1.29" fill="#ff0051"/>
<rect x="238.9" y="419.56" width="2.2" height="8.6" rx="1.1" fill="#008bfb"/>
<rect x="238.9" y="423.25" width="2.2" height="1.25" fill="#a53cc8"/>
<rect x="238.9" y="429.78" width="2.2" height="9.3" rx="1.1" fill="#ff0051"/>
<rect x="238.9" y="430.94" width="2.2" height="1.18" fill="#a53cc8"/>
<rect x="238.9" y="433.27" width="2.2" height="1.18" fill="#e0089e"/>
<rect x="238.9" y="434.43" width="2.2" height="1.18" fill="#a53cc8"/>
<rect x="238.9" y="436.76" width="2.2" height="1.18" fill="#a53cc8"/>
<rect x="238.9" y="440.5" width="2.2" height="9.2" rx="1.1" fill="#008bfb"/>
<rect x="238.9" y="445.1" width="2.2" height="1.17" fill="#ff0051"/>
<rect x="238.9" y="451.12" width="2.2" height="9.1" rx="1.1" fill="#008bfb"/>
<rect x="238.9" y="453.39" width="2.2" height="1.16" fill="#a53cc8"/>
<rect x="238.9" y="461.84" width="2.2" height="9" rx="1.1" fill="#008bfb"/>
<rect x="238.9" y="462.96" width="2.2" height="1.15" fill="#ff0051"/>
<rect x="238.9" y="466.34" width="2.2" height="1.15" fill="#ff0051"/>
<rect x="238.9" y="472.36" width="2.2" height="9.2" rx="1.1" fill="#ff0051"/>
<rect x="238.9" y="473.51" width="2.2" height="1.17" fill="#e0089e"/>
<rect x="238.9" y="475.81" width="2.2" height="1.17" fill="#a53cc8"/>
<rect x="238.9" y="479.26" width="2.2" height="1.17" fill="#e0089e"/>
<rect x="238.9" y="482.98" width="2.2" height="9.1" rx="1.1" fill="#e0089e"/>
<rect x="238.9" y="484.12" width="2.2" height="1.16" fill="#ff0051"/>
<rect x="238.9" y="485.25" width="2.2" height="1.16" fill="#008bfb"/>
<rect x="238.9" y="487.53" width="2.2" height="1.16" fill="#a53cc8"/>
<rect x="238.9" y="488.67" width="2.2" height="1.16" fill="#ff0051"/>
<rect x="238.9" y="489.8" width="2.2" height="1.16" fill="#008bfb"/>
<rect x="238.9" y="493.7" width="2.2" height="9" rx="1.1" fill="#008bfb"/>
<rect x="238.9" y="495.95" width="2.2" height="1.15" fill="#ff0051"/>
<rect x="238.9" y="499.32" width="2.2" height="1.15" fill="#ff0051"/>
<rect x="238.9" y="504.02" width="2.2" height="9.5" rx="1.1" fill="#a53cc8"/>
<rect x="238.9" y="505.21" width="2.2" height="1.21" fill="#e0089e"/>
<rect x="238.9" y="506.39" width="2.2" height="1.21" fill="#008bfb"/>
<rect x="238.9" y="508.77" width="2.2" height="1.21" fill="#ff0051"/>
<rect x="238.9" y="509.96" width="2.2" height="1.21" fill="#008bfb"/>
<line x1="170.3" y1="519.5" x2="309.3" y2="519.5" stroke="#333333" stroke-width="0.5"/>
<line x1="189.3" y1="519.5" x2="189.3" y2="520.9" stroke="#333333" stroke-width="0.4"/>
<text transform="translate(189.3,525.09) scale(0.1)" x="0" y="0" font-size="40.95" text-anchor="middle" fill="#333333" stroke="#333333" stroke-width="0" font-family='"DejaVu Sans", "Liberation Sans", sans-serif' font-weight="normal" >−0.04</text>
<line x1="214.5" y1="519.5" x2="214.5" y2="520.9" stroke="#333333" stroke-width="0.4"/>
<text transform="translate(214.5,525.09) scale(0.1)" x="0" y="0" font-size="40.95" text-anchor="middle" fill="#333333" stroke="#333333" stroke-width="0" font-family='"DejaVu Sans", "Liberation Sans", sans-serif' font-weight="normal" >−0.02</text>
<line x1="239.7" y1="519.5" x2="239.7" y2="520.9" stroke="#333333" stroke-width="0.4"/>
<text transform="translate(239.7,525.09) scale(0.1)" x="0" y="0" font-size="40.95" text-anchor="middle" fill="#333333" stroke="#333333" stroke-width="0" font-family='"DejaVu Sans", "Liberation Sans", sans-serif' font-weight="normal" >0.00</text>
<line x1="264.9" y1="519.5" x2="264.9" y2="520.9" stroke="#333333" stroke-width="0.4"/>
<text transform="translate(264.9,525.09) scale(0.1)" x="0" y="0" font-size="40.95" text-anchor="middle" fill="#333333" stroke="#333333" stroke-width="0" font-family='"DejaVu Sans", "Liberation Sans", sans-serif' font-weight="normal" >0.02</text>
<line x1="290.1" y1="519.5" x2="290.1" y2="520.9" stroke="#333333" stroke-width="0.4"/>
<text transform="translate(290.1,525.09) scale(0.1)" x="0" y="0" font-size="40.95" text-anchor="middle" fill="#333333" stroke="#333333" stroke-width="0" font-family='"DejaVu Sans", "Liberation Sans", sans-serif' font-weight="normal" >0.04</text>
<text transform="translate(239,530.66) scale(0.1)" x="0" y="0" font-size="48.4" text-anchor="middle" fill="#333333" stroke="#333333" stroke-width="0" font-family='"DejaVu Sans", "Liberation Sans", sans-serif' font-weight="normal" >SHAP value (impact on model output)</text>
<rect x="318" y="381.3" width="2" height="138.1" fill="url(#ge)"/>
<text transform="translate(320.9,382.72) scale(0.1)" x="0" y="0" font-size="39" text-anchor="start" fill="#333333" stroke="#333333" stroke-width="0" font-family='"DejaVu Sans", "Liberation Sans", sans-serif' font-weight="normal" >High</text>
<text transform="translate(320.9,520.82) scale(0.1)" x="0" y="0" font-size="39" text-anchor="start" fill="#333333" stroke="#333333" stroke-width="0" font-family='"DejaVu Sans", "Liberation Sans", sans-serif' font-weight="normal" >Low</text>
<text x="0" y="0" font-size="44.5" text-anchor="middle" fill="#333333" stroke="#333333" stroke-width="0" font-family='"DejaVu Sans", "Liberation Sans", sans-serif' transform="translate(334.82,450.35) rotate(-90) scale(0.1)">Feature value</text>
<text transform="translate(235.7,544) scale(0.1)" x="0" y="0" font-size="100" text-anchor="middle" fill="#000000" stroke="#000000" stroke-width="0" font-family='"Liberation Serif", serif' font-weight="bold" >(e)</text></g></svg></body></html>
